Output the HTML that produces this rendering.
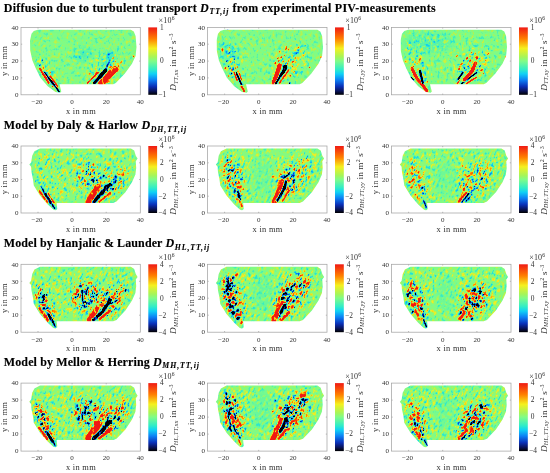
<!DOCTYPE html>
<html><head><meta charset="utf-8"><title>Diffusion due to turbulent transport</title>
<style>
html,body{margin:0;padding:0;background:#fff;}
body{width:550px;height:473px;position:relative;overflow:hidden;font-family:"Liberation Serif",serif;color:#222;}
.t{position:absolute;left:3.8px;font-weight:bold;font-size:12px;line-height:14px;white-space:nowrap;color:#000;letter-spacing:0.15px;-webkit-text-stroke:0.12px #000;}
.t i{font-style:italic}
.t sub{font-size:7.8px;font-style:italic;vertical-align:-2.5px;line-height:0;letter-spacing:0.95px;margin-left:0.5px}
svg{position:absolute;left:0;top:0;overflow:visible}
.k{font-size:7px;fill:#303030;font-family:"Liberation Serif",serif}
.ax{fill:none;stroke:#a4a4a4;stroke-width:0.75}
</style></head><body>
<div class="t" id="t0" style="top:0.6px;letter-spacing:0.215px">Diffusion due to turbulent transport <i>D</i><sub>TT,ij</sub> from experimental PIV-measurements</div>
<div class="t" id="t1" style="top:118.4px;letter-spacing:0.2px">Model by Daly &amp; Harlow <i>D</i><sub>DH,TT,ij</sub></div>
<div class="t" id="t2" style="top:236.4px;letter-spacing:0.1px">Model by Hanjalic &amp; Launder <i>D</i><sub>HL,TT,ij</sub></div>
<div class="t" id="t3" style="top:354.7px;letter-spacing:0.12px">Model by Mellor &amp; Herring <i>D</i><sub>MH,TT,ij</sub></div>
<svg width="550" height="473" viewBox="0 0 550 473">
<defs>
<linearGradient id="cb" x1="0" y1="1" x2="0" y2="0"><stop offset="0.000" stop-color="#000000"/><stop offset="0.060" stop-color="#0a1560"/><stop offset="0.125" stop-color="#0a30b8"/><stop offset="0.220" stop-color="#0c80f5"/><stop offset="0.310" stop-color="#10d0f5"/><stop offset="0.375" stop-color="#30ecc8"/><stop offset="0.500" stop-color="#80fc88"/><stop offset="0.560" stop-color="#a5f55a"/><stop offset="0.690" stop-color="#f5f01e"/><stop offset="0.830" stop-color="#ff8000"/><stop offset="1.000" stop-color="#f01a14"/></linearGradient>
<filter id="bl" x="-20%" y="-20%" width="140%" height="140%" color-interpolation-filters="sRGB"><feGaussianBlur stdDeviation="3"/></filter>
<filter id="f11" x="0" y="0" width="100%" height="100%" color-interpolation-filters="sRGB"><feTurbulence type="fractalNoise" baseFrequency="0.32 0.26" numOctaves="2" seed="11"/><feComponentTransfer><feFuncR type="table" tableValues="0 0 0 0 0 0 0 0 0 0 0 .07 .15 .22 .30 .38 .46 .50 .50 .50 .50 .50 .50 .55 .62 .70 .78 .86 .94 1 1 1 1 1 1 1 1 1 1 1 1"/></feComponentTransfer><feColorMatrix type="matrix" values="1 0 0 0 0 1 0 0 0 0 1 0 0 0 0 0 0 0 0 1" result="n"/><feGaussianBlur in="SourceGraphic" stdDeviation="0.45" result="b"/><feColorMatrix in="b" type="matrix" values="1 0 0 0 0 1 0 0 0 0 1 0 0 0 0 0 0 0 0 1" result="s"/><feColorMatrix in="b" type="matrix" values="0 1 0 0 0 0 1 0 0 0 0 1 0 0 0 0 0 0 0 1" result="a"/><feColorMatrix in="b" type="matrix" values="0 -1 0 0 1 0 -1 0 0 1 0 -1 0 0 1 0 0 0 0 1" result="i"/><feComposite in="a" in2="n" operator="arithmetic" k1="0.5" k2="0" k3="0" k4="0.5" result="p"/><feComposite in="s" in2="i" operator="arithmetic" k1="0" k2="0.5" k3="0.25" k4="0.25" result="q"/><feComposite in="p" in2="q" operator="arithmetic" k1="0" k2="2" k3="2" k4="-2"/><feComponentTransfer><feFuncR type="table" tableValues="0 0 0 .02 .04 .04 .04 .04 .05 .05 .06 .08 .15 .23 .32 .41 .50 .59 .68 .76 .85 .94 .97 .98 .99 1 .99 .98 .96 .95 .94 .94 .94"/><feFuncG type="table" tableValues="0 0 0 .05 .10 .16 .24 .36 .48 .60 .73 .83 .89 .93 .95 .97 .99 .97 .96 .95 .95 .94 .86 .75 .64 .52 .43 .35 .26 .18 .10 .10 .10"/><feFuncB type="table" tableValues="0 0 0 .21 .42 .61 .76 .85 .94 .96 .96 .93 .84 .75 .68 .61 .53 .43 .33 .27 .20 .14 .10 .07 .04 .01 .01 .03 .05 .06 .08 .08 .08"/></feComponentTransfer></filter>
<filter id="f12" x="0" y="0" width="100%" height="100%" color-interpolation-filters="sRGB"><feTurbulence type="fractalNoise" baseFrequency="0.32 0.26" numOctaves="2" seed="12"/><feComponentTransfer><feFuncR type="table" tableValues="0 0 0 0 0 0 0 0 0 0 0 .07 .15 .22 .30 .38 .46 .50 .50 .50 .50 .50 .50 .55 .62 .70 .78 .86 .94 1 1 1 1 1 1 1 1 1 1 1 1"/></feComponentTransfer><feColorMatrix type="matrix" values="1 0 0 0 0 1 0 0 0 0 1 0 0 0 0 0 0 0 0 1" result="n"/><feGaussianBlur in="SourceGraphic" stdDeviation="0.45" result="b"/><feColorMatrix in="b" type="matrix" values="1 0 0 0 0 1 0 0 0 0 1 0 0 0 0 0 0 0 0 1" result="s"/><feColorMatrix in="b" type="matrix" values="0 1 0 0 0 0 1 0 0 0 0 1 0 0 0 0 0 0 0 1" result="a"/><feColorMatrix in="b" type="matrix" values="0 -1 0 0 1 0 -1 0 0 1 0 -1 0 0 1 0 0 0 0 1" result="i"/><feComposite in="a" in2="n" operator="arithmetic" k1="0.5" k2="0" k3="0" k4="0.5" result="p"/><feComposite in="s" in2="i" operator="arithmetic" k1="0" k2="0.5" k3="0.25" k4="0.25" result="q"/><feComposite in="p" in2="q" operator="arithmetic" k1="0" k2="2" k3="2" k4="-2"/><feComponentTransfer><feFuncR type="table" tableValues="0 0 0 .02 .04 .04 .04 .04 .05 .05 .06 .08 .15 .23 .32 .41 .50 .59 .68 .76 .85 .94 .97 .98 .99 1 .99 .98 .96 .95 .94 .94 .94"/><feFuncG type="table" tableValues="0 0 0 .05 .10 .16 .24 .36 .48 .60 .73 .83 .89 .93 .95 .97 .99 .97 .96 .95 .95 .94 .86 .75 .64 .52 .43 .35 .26 .18 .10 .10 .10"/><feFuncB type="table" tableValues="0 0 0 .21 .42 .61 .76 .85 .94 .96 .96 .93 .84 .75 .68 .61 .53 .43 .33 .27 .20 .14 .10 .07 .04 .01 .01 .03 .05 .06 .08 .08 .08"/></feComponentTransfer></filter>
<filter id="f13" x="0" y="0" width="100%" height="100%" color-interpolation-filters="sRGB"><feTurbulence type="fractalNoise" baseFrequency="0.32 0.26" numOctaves="2" seed="13"/><feComponentTransfer><feFuncR type="table" tableValues="0 0 0 0 0 0 0 0 0 0 0 .07 .15 .22 .30 .38 .46 .50 .50 .50 .50 .50 .50 .55 .62 .70 .78 .86 .94 1 1 1 1 1 1 1 1 1 1 1 1"/></feComponentTransfer><feColorMatrix type="matrix" values="1 0 0 0 0 1 0 0 0 0 1 0 0 0 0 0 0 0 0 1" result="n"/><feGaussianBlur in="SourceGraphic" stdDeviation="0.45" result="b"/><feColorMatrix in="b" type="matrix" values="1 0 0 0 0 1 0 0 0 0 1 0 0 0 0 0 0 0 0 1" result="s"/><feColorMatrix in="b" type="matrix" values="0 1 0 0 0 0 1 0 0 0 0 1 0 0 0 0 0 0 0 1" result="a"/><feColorMatrix in="b" type="matrix" values="0 -1 0 0 1 0 -1 0 0 1 0 -1 0 0 1 0 0 0 0 1" result="i"/><feComposite in="a" in2="n" operator="arithmetic" k1="0.5" k2="0" k3="0" k4="0.5" result="p"/><feComposite in="s" in2="i" operator="arithmetic" k1="0" k2="0.5" k3="0.25" k4="0.25" result="q"/><feComposite in="p" in2="q" operator="arithmetic" k1="0" k2="2" k3="2" k4="-2"/><feComponentTransfer><feFuncR type="table" tableValues="0 0 0 .02 .04 .04 .04 .04 .05 .05 .06 .08 .15 .23 .32 .41 .50 .59 .68 .76 .85 .94 .97 .98 .99 1 .99 .98 .96 .95 .94 .94 .94"/><feFuncG type="table" tableValues="0 0 0 .05 .10 .16 .24 .36 .48 .60 .73 .83 .89 .93 .95 .97 .99 .97 .96 .95 .95 .94 .86 .75 .64 .52 .43 .35 .26 .18 .10 .10 .10"/><feFuncB type="table" tableValues="0 0 0 .21 .42 .61 .76 .85 .94 .96 .96 .93 .84 .75 .68 .61 .53 .43 .33 .27 .20 .14 .10 .07 .04 .01 .01 .03 .05 .06 .08 .08 .08"/></feComponentTransfer></filter>
<filter id="f21" x="0" y="0" width="100%" height="100%" color-interpolation-filters="sRGB"><feTurbulence type="fractalNoise" baseFrequency="0.46 0.24" numOctaves="2" seed="21"/><feComponentTransfer><feFuncR type="table" tableValues="0 0 0 0 0 0 0 0 0 0 0 0 0 0 .27 .50 .50 .50 .50 .50 .50 .50 .50 .50 .62 .92 1 1 1 1 1 1 1 1 1 1 1 1 1 1 1"/></feComponentTransfer><feColorMatrix type="matrix" values="1 0 0 0 0 1 0 0 0 0 1 0 0 0 0 0 0 0 0 1" result="n"/><feGaussianBlur in="SourceGraphic" stdDeviation="0.25" result="b"/><feColorMatrix in="b" type="matrix" values="1 0 0 0 0 1 0 0 0 0 1 0 0 0 0 0 0 0 0 1" result="s"/><feColorMatrix in="b" type="matrix" values="0 1 0 0 0 0 1 0 0 0 0 1 0 0 0 0 0 0 0 1" result="a"/><feColorMatrix in="b" type="matrix" values="0 -1 0 0 1 0 -1 0 0 1 0 -1 0 0 1 0 0 0 0 1" result="i"/><feComposite in="a" in2="n" operator="arithmetic" k1="0.5" k2="0" k3="0" k4="0.5" result="p"/><feComposite in="s" in2="i" operator="arithmetic" k1="0" k2="0.5" k3="0.25" k4="0.25" result="q"/><feComposite in="p" in2="q" operator="arithmetic" k1="0" k2="2" k3="2" k4="-2"/><feComponentTransfer><feFuncR type="table" tableValues="0 0 0 .02 .04 .04 .04 .04 .05 .05 .06 .08 .15 .23 .32 .41 .50 .59 .68 .76 .85 .94 .97 .98 .99 1 .99 .98 .96 .95 .94 .94 .94"/><feFuncG type="table" tableValues="0 0 0 .05 .10 .16 .24 .36 .48 .60 .73 .83 .89 .93 .95 .97 .99 .97 .96 .95 .95 .94 .86 .75 .64 .52 .43 .35 .26 .18 .10 .10 .10"/><feFuncB type="table" tableValues="0 0 0 .21 .42 .61 .76 .85 .94 .96 .96 .93 .84 .75 .68 .61 .53 .43 .33 .27 .20 .14 .10 .07 .04 .01 .01 .03 .05 .06 .08 .08 .08"/></feComponentTransfer></filter>
<filter id="f22" x="0" y="0" width="100%" height="100%" color-interpolation-filters="sRGB"><feTurbulence type="fractalNoise" baseFrequency="0.46 0.24" numOctaves="2" seed="22"/><feComponentTransfer><feFuncR type="table" tableValues="0 0 0 0 0 0 0 0 0 0 0 0 0 0 .27 .50 .50 .50 .50 .50 .50 .50 .50 .50 .62 .92 1 1 1 1 1 1 1 1 1 1 1 1 1 1 1"/></feComponentTransfer><feColorMatrix type="matrix" values="1 0 0 0 0 1 0 0 0 0 1 0 0 0 0 0 0 0 0 1" result="n"/><feGaussianBlur in="SourceGraphic" stdDeviation="0.25" result="b"/><feColorMatrix in="b" type="matrix" values="1 0 0 0 0 1 0 0 0 0 1 0 0 0 0 0 0 0 0 1" result="s"/><feColorMatrix in="b" type="matrix" values="0 1 0 0 0 0 1 0 0 0 0 1 0 0 0 0 0 0 0 1" result="a"/><feColorMatrix in="b" type="matrix" values="0 -1 0 0 1 0 -1 0 0 1 0 -1 0 0 1 0 0 0 0 1" result="i"/><feComposite in="a" in2="n" operator="arithmetic" k1="0.5" k2="0" k3="0" k4="0.5" result="p"/><feComposite in="s" in2="i" operator="arithmetic" k1="0" k2="0.5" k3="0.25" k4="0.25" result="q"/><feComposite in="p" in2="q" operator="arithmetic" k1="0" k2="2" k3="2" k4="-2"/><feComponentTransfer><feFuncR type="table" tableValues="0 0 0 .02 .04 .04 .04 .04 .05 .05 .06 .08 .15 .23 .32 .41 .50 .59 .68 .76 .85 .94 .97 .98 .99 1 .99 .98 .96 .95 .94 .94 .94"/><feFuncG type="table" tableValues="0 0 0 .05 .10 .16 .24 .36 .48 .60 .73 .83 .89 .93 .95 .97 .99 .97 .96 .95 .95 .94 .86 .75 .64 .52 .43 .35 .26 .18 .10 .10 .10"/><feFuncB type="table" tableValues="0 0 0 .21 .42 .61 .76 .85 .94 .96 .96 .93 .84 .75 .68 .61 .53 .43 .33 .27 .20 .14 .10 .07 .04 .01 .01 .03 .05 .06 .08 .08 .08"/></feComponentTransfer></filter>
<filter id="f23" x="0" y="0" width="100%" height="100%" color-interpolation-filters="sRGB"><feTurbulence type="fractalNoise" baseFrequency="0.46 0.24" numOctaves="2" seed="23"/><feComponentTransfer><feFuncR type="table" tableValues="0 0 0 0 0 0 0 0 0 0 0 0 0 0 .27 .50 .50 .50 .50 .50 .50 .50 .50 .50 .62 .92 1 1 1 1 1 1 1 1 1 1 1 1 1 1 1"/></feComponentTransfer><feColorMatrix type="matrix" values="1 0 0 0 0 1 0 0 0 0 1 0 0 0 0 0 0 0 0 1" result="n"/><feGaussianBlur in="SourceGraphic" stdDeviation="0.25" result="b"/><feColorMatrix in="b" type="matrix" values="1 0 0 0 0 1 0 0 0 0 1 0 0 0 0 0 0 0 0 1" result="s"/><feColorMatrix in="b" type="matrix" values="0 1 0 0 0 0 1 0 0 0 0 1 0 0 0 0 0 0 0 1" result="a"/><feColorMatrix in="b" type="matrix" values="0 -1 0 0 1 0 -1 0 0 1 0 -1 0 0 1 0 0 0 0 1" result="i"/><feComposite in="a" in2="n" operator="arithmetic" k1="0.5" k2="0" k3="0" k4="0.5" result="p"/><feComposite in="s" in2="i" operator="arithmetic" k1="0" k2="0.5" k3="0.25" k4="0.25" result="q"/><feComposite in="p" in2="q" operator="arithmetic" k1="0" k2="2" k3="2" k4="-2"/><feComponentTransfer><feFuncR type="table" tableValues="0 0 0 .02 .04 .04 .04 .04 .05 .05 .06 .08 .15 .23 .32 .41 .50 .59 .68 .76 .85 .94 .97 .98 .99 1 .99 .98 .96 .95 .94 .94 .94"/><feFuncG type="table" tableValues="0 0 0 .05 .10 .16 .24 .36 .48 .60 .73 .83 .89 .93 .95 .97 .99 .97 .96 .95 .95 .94 .86 .75 .64 .52 .43 .35 .26 .18 .10 .10 .10"/><feFuncB type="table" tableValues="0 0 0 .21 .42 .61 .76 .85 .94 .96 .96 .93 .84 .75 .68 .61 .53 .43 .33 .27 .20 .14 .10 .07 .04 .01 .01 .03 .05 .06 .08 .08 .08"/></feComponentTransfer></filter>
<filter id="f31" x="0" y="0" width="100%" height="100%" color-interpolation-filters="sRGB"><feTurbulence type="fractalNoise" baseFrequency="0.46 0.24" numOctaves="2" seed="31"/><feComponentTransfer><feFuncR type="table" tableValues="0 0 0 0 0 0 0 0 0 0 0 0 0 0 .27 .50 .50 .50 .50 .50 .50 .50 .50 .50 .62 .92 1 1 1 1 1 1 1 1 1 1 1 1 1 1 1"/></feComponentTransfer><feColorMatrix type="matrix" values="1 0 0 0 0 1 0 0 0 0 1 0 0 0 0 0 0 0 0 1" result="n"/><feGaussianBlur in="SourceGraphic" stdDeviation="0.25" result="b"/><feColorMatrix in="b" type="matrix" values="1 0 0 0 0 1 0 0 0 0 1 0 0 0 0 0 0 0 0 1" result="s"/><feColorMatrix in="b" type="matrix" values="0 1 0 0 0 0 1 0 0 0 0 1 0 0 0 0 0 0 0 1" result="a"/><feColorMatrix in="b" type="matrix" values="0 -1 0 0 1 0 -1 0 0 1 0 -1 0 0 1 0 0 0 0 1" result="i"/><feComposite in="a" in2="n" operator="arithmetic" k1="0.5" k2="0" k3="0" k4="0.5" result="p"/><feComposite in="s" in2="i" operator="arithmetic" k1="0" k2="0.5" k3="0.25" k4="0.25" result="q"/><feComposite in="p" in2="q" operator="arithmetic" k1="0" k2="2" k3="2" k4="-2"/><feComponentTransfer><feFuncR type="table" tableValues="0 0 0 .02 .04 .04 .04 .04 .05 .05 .06 .08 .15 .23 .32 .41 .50 .59 .68 .76 .85 .94 .97 .98 .99 1 .99 .98 .96 .95 .94 .94 .94"/><feFuncG type="table" tableValues="0 0 0 .05 .10 .16 .24 .36 .48 .60 .73 .83 .89 .93 .95 .97 .99 .97 .96 .95 .95 .94 .86 .75 .64 .52 .43 .35 .26 .18 .10 .10 .10"/><feFuncB type="table" tableValues="0 0 0 .21 .42 .61 .76 .85 .94 .96 .96 .93 .84 .75 .68 .61 .53 .43 .33 .27 .20 .14 .10 .07 .04 .01 .01 .03 .05 .06 .08 .08 .08"/></feComponentTransfer></filter>
<filter id="f32" x="0" y="0" width="100%" height="100%" color-interpolation-filters="sRGB"><feTurbulence type="fractalNoise" baseFrequency="0.46 0.24" numOctaves="2" seed="32"/><feComponentTransfer><feFuncR type="table" tableValues="0 0 0 0 0 0 0 0 0 0 0 0 0 0 .27 .50 .50 .50 .50 .50 .50 .50 .50 .50 .62 .92 1 1 1 1 1 1 1 1 1 1 1 1 1 1 1"/></feComponentTransfer><feColorMatrix type="matrix" values="1 0 0 0 0 1 0 0 0 0 1 0 0 0 0 0 0 0 0 1" result="n"/><feGaussianBlur in="SourceGraphic" stdDeviation="0.25" result="b"/><feColorMatrix in="b" type="matrix" values="1 0 0 0 0 1 0 0 0 0 1 0 0 0 0 0 0 0 0 1" result="s"/><feColorMatrix in="b" type="matrix" values="0 1 0 0 0 0 1 0 0 0 0 1 0 0 0 0 0 0 0 1" result="a"/><feColorMatrix in="b" type="matrix" values="0 -1 0 0 1 0 -1 0 0 1 0 -1 0 0 1 0 0 0 0 1" result="i"/><feComposite in="a" in2="n" operator="arithmetic" k1="0.5" k2="0" k3="0" k4="0.5" result="p"/><feComposite in="s" in2="i" operator="arithmetic" k1="0" k2="0.5" k3="0.25" k4="0.25" result="q"/><feComposite in="p" in2="q" operator="arithmetic" k1="0" k2="2" k3="2" k4="-2"/><feComponentTransfer><feFuncR type="table" tableValues="0 0 0 .02 .04 .04 .04 .04 .05 .05 .06 .08 .15 .23 .32 .41 .50 .59 .68 .76 .85 .94 .97 .98 .99 1 .99 .98 .96 .95 .94 .94 .94"/><feFuncG type="table" tableValues="0 0 0 .05 .10 .16 .24 .36 .48 .60 .73 .83 .89 .93 .95 .97 .99 .97 .96 .95 .95 .94 .86 .75 .64 .52 .43 .35 .26 .18 .10 .10 .10"/><feFuncB type="table" tableValues="0 0 0 .21 .42 .61 .76 .85 .94 .96 .96 .93 .84 .75 .68 .61 .53 .43 .33 .27 .20 .14 .10 .07 .04 .01 .01 .03 .05 .06 .08 .08 .08"/></feComponentTransfer></filter>
<filter id="f33" x="0" y="0" width="100%" height="100%" color-interpolation-filters="sRGB"><feTurbulence type="fractalNoise" baseFrequency="0.46 0.24" numOctaves="2" seed="33"/><feComponentTransfer><feFuncR type="table" tableValues="0 0 0 0 0 0 0 0 0 0 0 0 0 0 .27 .50 .50 .50 .50 .50 .50 .50 .50 .50 .62 .92 1 1 1 1 1 1 1 1 1 1 1 1 1 1 1"/></feComponentTransfer><feColorMatrix type="matrix" values="1 0 0 0 0 1 0 0 0 0 1 0 0 0 0 0 0 0 0 1" result="n"/><feGaussianBlur in="SourceGraphic" stdDeviation="0.25" result="b"/><feColorMatrix in="b" type="matrix" values="1 0 0 0 0 1 0 0 0 0 1 0 0 0 0 0 0 0 0 1" result="s"/><feColorMatrix in="b" type="matrix" values="0 1 0 0 0 0 1 0 0 0 0 1 0 0 0 0 0 0 0 1" result="a"/><feColorMatrix in="b" type="matrix" values="0 -1 0 0 1 0 -1 0 0 1 0 -1 0 0 1 0 0 0 0 1" result="i"/><feComposite in="a" in2="n" operator="arithmetic" k1="0.5" k2="0" k3="0" k4="0.5" result="p"/><feComposite in="s" in2="i" operator="arithmetic" k1="0" k2="0.5" k3="0.25" k4="0.25" result="q"/><feComposite in="p" in2="q" operator="arithmetic" k1="0" k2="2" k3="2" k4="-2"/><feComponentTransfer><feFuncR type="table" tableValues="0 0 0 .02 .04 .04 .04 .04 .05 .05 .06 .08 .15 .23 .32 .41 .50 .59 .68 .76 .85 .94 .97 .98 .99 1 .99 .98 .96 .95 .94 .94 .94"/><feFuncG type="table" tableValues="0 0 0 .05 .10 .16 .24 .36 .48 .60 .73 .83 .89 .93 .95 .97 .99 .97 .96 .95 .95 .94 .86 .75 .64 .52 .43 .35 .26 .18 .10 .10 .10"/><feFuncB type="table" tableValues="0 0 0 .21 .42 .61 .76 .85 .94 .96 .96 .93 .84 .75 .68 .61 .53 .43 .33 .27 .20 .14 .10 .07 .04 .01 .01 .03 .05 .06 .08 .08 .08"/></feComponentTransfer></filter>
<filter id="f41" x="0" y="0" width="100%" height="100%" color-interpolation-filters="sRGB"><feTurbulence type="fractalNoise" baseFrequency="0.46 0.24" numOctaves="2" seed="41"/><feComponentTransfer><feFuncR type="table" tableValues="0 0 0 0 0 0 0 0 0 0 0 0 0 0 .27 .50 .50 .50 .50 .50 .50 .50 .50 .50 .62 .92 1 1 1 1 1 1 1 1 1 1 1 1 1 1 1"/></feComponentTransfer><feColorMatrix type="matrix" values="1 0 0 0 0 1 0 0 0 0 1 0 0 0 0 0 0 0 0 1" result="n"/><feGaussianBlur in="SourceGraphic" stdDeviation="0.25" result="b"/><feColorMatrix in="b" type="matrix" values="1 0 0 0 0 1 0 0 0 0 1 0 0 0 0 0 0 0 0 1" result="s"/><feColorMatrix in="b" type="matrix" values="0 1 0 0 0 0 1 0 0 0 0 1 0 0 0 0 0 0 0 1" result="a"/><feColorMatrix in="b" type="matrix" values="0 -1 0 0 1 0 -1 0 0 1 0 -1 0 0 1 0 0 0 0 1" result="i"/><feComposite in="a" in2="n" operator="arithmetic" k1="0.5" k2="0" k3="0" k4="0.5" result="p"/><feComposite in="s" in2="i" operator="arithmetic" k1="0" k2="0.5" k3="0.25" k4="0.25" result="q"/><feComposite in="p" in2="q" operator="arithmetic" k1="0" k2="2" k3="2" k4="-2"/><feComponentTransfer><feFuncR type="table" tableValues="0 0 0 .02 .04 .04 .04 .04 .05 .05 .06 .08 .15 .23 .32 .41 .50 .59 .68 .76 .85 .94 .97 .98 .99 1 .99 .98 .96 .95 .94 .94 .94"/><feFuncG type="table" tableValues="0 0 0 .05 .10 .16 .24 .36 .48 .60 .73 .83 .89 .93 .95 .97 .99 .97 .96 .95 .95 .94 .86 .75 .64 .52 .43 .35 .26 .18 .10 .10 .10"/><feFuncB type="table" tableValues="0 0 0 .21 .42 .61 .76 .85 .94 .96 .96 .93 .84 .75 .68 .61 .53 .43 .33 .27 .20 .14 .10 .07 .04 .01 .01 .03 .05 .06 .08 .08 .08"/></feComponentTransfer></filter>
<filter id="f42" x="0" y="0" width="100%" height="100%" color-interpolation-filters="sRGB"><feTurbulence type="fractalNoise" baseFrequency="0.46 0.24" numOctaves="2" seed="42"/><feComponentTransfer><feFuncR type="table" tableValues="0 0 0 0 0 0 0 0 0 0 0 0 0 0 .27 .50 .50 .50 .50 .50 .50 .50 .50 .50 .62 .92 1 1 1 1 1 1 1 1 1 1 1 1 1 1 1"/></feComponentTransfer><feColorMatrix type="matrix" values="1 0 0 0 0 1 0 0 0 0 1 0 0 0 0 0 0 0 0 1" result="n"/><feGaussianBlur in="SourceGraphic" stdDeviation="0.25" result="b"/><feColorMatrix in="b" type="matrix" values="1 0 0 0 0 1 0 0 0 0 1 0 0 0 0 0 0 0 0 1" result="s"/><feColorMatrix in="b" type="matrix" values="0 1 0 0 0 0 1 0 0 0 0 1 0 0 0 0 0 0 0 1" result="a"/><feColorMatrix in="b" type="matrix" values="0 -1 0 0 1 0 -1 0 0 1 0 -1 0 0 1 0 0 0 0 1" result="i"/><feComposite in="a" in2="n" operator="arithmetic" k1="0.5" k2="0" k3="0" k4="0.5" result="p"/><feComposite in="s" in2="i" operator="arithmetic" k1="0" k2="0.5" k3="0.25" k4="0.25" result="q"/><feComposite in="p" in2="q" operator="arithmetic" k1="0" k2="2" k3="2" k4="-2"/><feComponentTransfer><feFuncR type="table" tableValues="0 0 0 .02 .04 .04 .04 .04 .05 .05 .06 .08 .15 .23 .32 .41 .50 .59 .68 .76 .85 .94 .97 .98 .99 1 .99 .98 .96 .95 .94 .94 .94"/><feFuncG type="table" tableValues="0 0 0 .05 .10 .16 .24 .36 .48 .60 .73 .83 .89 .93 .95 .97 .99 .97 .96 .95 .95 .94 .86 .75 .64 .52 .43 .35 .26 .18 .10 .10 .10"/><feFuncB type="table" tableValues="0 0 0 .21 .42 .61 .76 .85 .94 .96 .96 .93 .84 .75 .68 .61 .53 .43 .33 .27 .20 .14 .10 .07 .04 .01 .01 .03 .05 .06 .08 .08 .08"/></feComponentTransfer></filter>
<filter id="f43" x="0" y="0" width="100%" height="100%" color-interpolation-filters="sRGB"><feTurbulence type="fractalNoise" baseFrequency="0.46 0.24" numOctaves="2" seed="43"/><feComponentTransfer><feFuncR type="table" tableValues="0 0 0 0 0 0 0 0 0 0 0 0 0 0 .27 .50 .50 .50 .50 .50 .50 .50 .50 .50 .62 .92 1 1 1 1 1 1 1 1 1 1 1 1 1 1 1"/></feComponentTransfer><feColorMatrix type="matrix" values="1 0 0 0 0 1 0 0 0 0 1 0 0 0 0 0 0 0 0 1" result="n"/><feGaussianBlur in="SourceGraphic" stdDeviation="0.25" result="b"/><feColorMatrix in="b" type="matrix" values="1 0 0 0 0 1 0 0 0 0 1 0 0 0 0 0 0 0 0 1" result="s"/><feColorMatrix in="b" type="matrix" values="0 1 0 0 0 0 1 0 0 0 0 1 0 0 0 0 0 0 0 1" result="a"/><feColorMatrix in="b" type="matrix" values="0 -1 0 0 1 0 -1 0 0 1 0 -1 0 0 1 0 0 0 0 1" result="i"/><feComposite in="a" in2="n" operator="arithmetic" k1="0.5" k2="0" k3="0" k4="0.5" result="p"/><feComposite in="s" in2="i" operator="arithmetic" k1="0" k2="0.5" k3="0.25" k4="0.25" result="q"/><feComposite in="p" in2="q" operator="arithmetic" k1="0" k2="2" k3="2" k4="-2"/><feComponentTransfer><feFuncR type="table" tableValues="0 0 0 .02 .04 .04 .04 .04 .05 .05 .06 .08 .15 .23 .32 .41 .50 .59 .68 .76 .85 .94 .97 .98 .99 1 .99 .98 .96 .95 .94 .94 .94"/><feFuncG type="table" tableValues="0 0 0 .05 .10 .16 .24 .36 .48 .60 .73 .83 .89 .93 .95 .97 .99 .97 .96 .95 .95 .94 .86 .75 .64 .52 .43 .35 .26 .18 .10 .10 .10"/><feFuncB type="table" tableValues="0 0 0 .21 .42 .61 .76 .85 .94 .96 .96 .93 .84 .75 .68 .61 .53 .43 .33 .27 .20 .14 .10 .07 .04 .01 .01 .03 .05 .06 .08 .08 .08"/></feComponentTransfer></filter>
<clipPath id="c11"><path d="M17.7 4.9 L110.9 4.9 L113.8 6.7 L115.6 11.1 L116.5 22.2 L115.6 31.1 L112 38.8 L104.7 48.8 L95.8 58.1 L93.2 59.4 L39.5 59.4 L41.3 66.5 L40.2 67.9 L35.5 67.2 L27.7 61.4 L20.4 52.8 L15.7 43.3 L12.4 35.5 L10.2 25.5 L10 15.5 L11.5 8.9 L13.8 6.2Z"/></clipPath>
<clipPath id="c12"><path d="M17.7 4.9 L110.9 4.9 L113.8 6.7 L115.6 11.1 L116.5 22.2 L115.6 31.1 L112 38.8 L104.7 48.8 L95.8 58.1 L93.2 59.4 L39.5 59.4 L41.3 66.5 L40.2 67.9 L35.5 67.2 L27.7 61.4 L20.4 52.8 L15.7 43.3 L12.4 35.5 L10.2 25.5 L10 15.5 L11.5 8.9 L13.8 6.2Z"/></clipPath>
<clipPath id="c13"><path d="M17.7 4.9 L110.9 4.9 L113.8 6.7 L115.6 11.1 L116.5 22.2 L115.6 31.1 L112 38.8 L104.7 48.8 L95.8 58.1 L93.2 59.4 L39.5 59.4 L41.3 66.5 L40.2 67.9 L35.5 67.2 L27.7 61.4 L20.4 52.8 L15.7 43.3 L12.4 35.5 L10.2 25.5 L10 15.5 L11.5 8.9 L13.8 6.2Z"/></clipPath>
<clipPath id="c21"><path d="M20 4.9 L110.9 4.9 L114.2 7.1 L115.8 12.2 L117.6 15.1 L115.8 17.7 L116.2 24.4 L115.4 31.1 L112 38.8 L105.4 48.8 L96.5 58.1 L93.2 59.4 L36.6 59.4 L37.3 65.4 L35.5 67 L33.3 66.1 L27.7 61 L20 52.1 L13.8 42.1 L12.9 35.5 L11.5 28.8 L11.1 23.3 L9.3 21.1 L11.1 18.9 L12.2 12.2 L14.4 7.8Z"/></clipPath>
<clipPath id="c22"><path d="M20 4.9 L110.9 4.9 L114.2 7.1 L115.8 12.2 L117.6 15.1 L115.8 17.7 L116.2 24.4 L115.4 31.1 L112 38.8 L105.4 48.8 L96.5 58.1 L93.2 59.4 L36.6 59.4 L37.3 65.4 L35.5 67 L33.3 66.1 L27.7 61 L20 52.1 L13.8 42.1 L12.9 35.5 L11.5 28.8 L11.1 23.3 L9.3 21.1 L11.1 18.9 L12.2 12.2 L14.4 7.8Z"/></clipPath>
<clipPath id="c23"><path d="M20 4.9 L110.9 4.9 L114.2 7.1 L115.8 12.2 L117.6 15.1 L115.8 17.7 L116.2 24.4 L115.4 31.1 L112 38.8 L105.4 48.8 L96.5 58.1 L93.2 59.4 L36.6 59.4 L37.3 65.4 L35.5 67 L33.3 66.1 L27.7 61 L20 52.1 L13.8 42.1 L12.9 35.5 L11.5 28.8 L11.1 23.3 L9.3 21.1 L11.1 18.9 L12.2 12.2 L14.4 7.8Z"/></clipPath>
<clipPath id="c31"><path d="M20 4.9 L110.9 4.9 L114.2 7.1 L115.8 12.2 L117.6 15.1 L115.8 17.7 L116.2 24.4 L115.4 31.1 L112 38.8 L105.4 48.8 L96.5 58.1 L93.2 59.4 L36.6 59.4 L37.3 65.4 L35.5 67 L33.3 66.1 L27.7 61 L20 52.1 L13.8 42.1 L12.9 35.5 L11.5 28.8 L11.1 23.3 L9.3 21.1 L11.1 18.9 L12.2 12.2 L14.4 7.8Z"/></clipPath>
<clipPath id="c32"><path d="M20 4.9 L110.9 4.9 L114.2 7.1 L115.8 12.2 L117.6 15.1 L115.8 17.7 L116.2 24.4 L115.4 31.1 L112 38.8 L105.4 48.8 L96.5 58.1 L93.2 59.4 L36.6 59.4 L37.3 65.4 L35.5 67 L33.3 66.1 L27.7 61 L20 52.1 L13.8 42.1 L12.9 35.5 L11.5 28.8 L11.1 23.3 L9.3 21.1 L11.1 18.9 L12.2 12.2 L14.4 7.8Z"/></clipPath>
<clipPath id="c33"><path d="M20 4.9 L110.9 4.9 L114.2 7.1 L115.8 12.2 L117.6 15.1 L115.8 17.7 L116.2 24.4 L115.4 31.1 L112 38.8 L105.4 48.8 L96.5 58.1 L93.2 59.4 L36.6 59.4 L37.3 65.4 L35.5 67 L33.3 66.1 L27.7 61 L20 52.1 L13.8 42.1 L12.9 35.5 L11.5 28.8 L11.1 23.3 L9.3 21.1 L11.1 18.9 L12.2 12.2 L14.4 7.8Z"/></clipPath>
<clipPath id="c41"><path d="M20 4.9 L110.9 4.9 L114.2 7.1 L115.8 12.2 L117.6 15.1 L115.8 17.7 L116.2 24.4 L115.4 31.1 L112 38.8 L105.4 48.8 L96.5 58.1 L93.2 59.4 L36.6 59.4 L37.3 65.4 L35.5 67 L33.3 66.1 L27.7 61 L20 52.1 L13.8 42.1 L12.9 35.5 L11.5 28.8 L11.1 23.3 L9.3 21.1 L11.1 18.9 L12.2 12.2 L14.4 7.8Z"/></clipPath>
<clipPath id="c42"><path d="M20 4.9 L110.9 4.9 L114.2 7.1 L115.8 12.2 L117.6 15.1 L115.8 17.7 L116.2 24.4 L115.4 31.1 L112 38.8 L105.4 48.8 L96.5 58.1 L93.2 59.4 L36.6 59.4 L37.3 65.4 L35.5 67 L33.3 66.1 L27.7 61 L20 52.1 L13.8 42.1 L12.9 35.5 L11.5 28.8 L11.1 23.3 L9.3 21.1 L11.1 18.9 L12.2 12.2 L14.4 7.8Z"/></clipPath>
<clipPath id="c43"><path d="M20 4.9 L110.9 4.9 L114.2 7.1 L115.8 12.2 L117.6 15.1 L115.8 17.7 L116.2 24.4 L115.4 31.1 L112 38.8 L105.4 48.8 L96.5 58.1 L93.2 59.4 L36.6 59.4 L37.3 65.4 L35.5 67 L33.3 66.1 L27.7 61 L20 52.1 L13.8 42.1 L12.9 35.5 L11.5 28.8 L11.1 23.3 L9.3 21.1 L11.1 18.9 L12.2 12.2 L14.4 7.8Z"/></clipPath>
</defs>
<g transform="translate(20 24.9)" clip-path="url(#c11)"><g transform="rotate(0 61 36)"><g filter="url(#f11)"><g transform="rotate(0 61 36)"><rect x="-30" y="-40" width="182" height="152" fill="#802900"/><g filter="url(#bl)"><ellipse cx="24.4" cy="48.8" rx="8.9" ry="20" fill="#806100" transform="rotate(-35 24.4 48.8)"/><ellipse cx="85.4" cy="44.4" rx="14.4" ry="22.2" fill="#806600" transform="rotate(40 85.4 44.4)"/><ellipse cx="63.2" cy="29.9" rx="10" ry="6.7" fill="#704c00" transform="rotate(-20 63.2 29.9)"/><ellipse cx="88.7" cy="33.3" rx="4.9" ry="7.8" fill="#614c00" transform="rotate(30 88.7 33.3)"/><path d="M17.7 4.9 L110.9 4.9 L113.8 6.7 L115.6 11.1 L116.5 22.2 L115.6 31.1 L112 38.8 L104.7 48.8 L95.8 58.1 L93.2 59.4 L39.5 59.4 L41.3 66.5 L40.2 67.9 L35.5 67.2 L27.7 61.4 L20.4 52.8 L15.7 43.3 L12.4 35.5 L10.2 25.5 L10 15.5 L11.5 8.9 L13.8 6.2Z" fill="none" stroke="#801f00" stroke-width="6"/></g><g fill="none" stroke-linecap="round"><path stroke="#db4c00" stroke-width="2" d="M32.8 58.3L33.1 57.7"/><path stroke="#524c00" stroke-width="2" d="M26.4 49.4L27 49"/><path stroke="#ad4c00" stroke-width="1.6" d="M26.9 46.2L27 45.7M23.2 43.4L23.6 42.9M26.3 51.6L26.5 50.8M34.8 55.4L35.1 54.8M101.9 36.3L102.3 36M91.2 35.8L91.6 35.3"/><path stroke="#ad4c00" stroke-width="1.1" d="M25.6 50.6L25.9 49.8M28.1 45.6L28.8 44.9M32.9 53.1L33.6 52.5M21.8 47.3L22.3 46.3M90.1 45.5L91.1 44.5M81.5 43.1L81.8 42.3"/><path stroke="#db4c00" stroke-width="1.3" d="M32.6 61.7L33 61.1M29.7 48.2L30.3 47.6M69 49.5L70.2 48.3M95.2 37L95.6 36.2M98.5 41.4L98.9 40.7M92.9 33.7L93.4 32.9M100.7 38.1L101.2 37.3M97.4 45.9L97.8 45.1"/><path stroke="#ad4c00" stroke-width="0.9" d="M26.9 51.8L27.4 50.9M83.3 28.2L84 27.2"/><path stroke="#524c00" stroke-width="2.2" d="M26.1 48.2L26.8 47.7M87.9 29.7L88.3 29.2"/><path stroke="#ad4c00" stroke-width="1.8" d="M83.3 36.2L84 35.7M88.8 42.5L89.5 42.1M84.8 49.7L85.2 49"/><path stroke="#524c00" stroke-width="1.6" d="M89.8 44.7L90.1 44.4M95 44.2L95.8 43.4M79.5 57.2L80 56.1"/><path stroke="#524c00" stroke-width="1.1" d="M71.7 56L72.2 55M91.1 41.2L91.8 40.4"/><path stroke="#db4c00" stroke-width="2.2" d="M88 56.9L88.7 56.4"/><path stroke="#db4c00" stroke-width="1.6" d="M77.4 48.3L78.4 47.8"/><path stroke="#524c00" stroke-width="1.8" d="M83.6 51.7L84.4 51.2M86.3 45.7L86.7 44.6"/><path stroke="#ad4c00" stroke-width="1.3" d="M81.9 51L83.1 50.3M93.3 38.9L94.4 37.9M95.1 30.8L95.5 29.4"/><path stroke="#db4c00" stroke-width="0.9" d="M87.2 41.6L87.6 40.7"/><path stroke="#db4c00" stroke-width="1.8" d="M90.5 42.3L91.1 41.8"/><path stroke="#ff4c00" stroke-width="2" d="M20 43.9L28.8 58.1M30.2 51.5L37.3 61.7"/><path stroke="#003300" stroke-width="1.3" d="M24.8 47.7L28.8 53.2"/><path stroke="#003300" stroke-width="2.2" d="M28.8 53.2L33.7 59.4"/><path stroke="#003300" stroke-width="1.6" d="M33.7 59.4L39 66.5"/><path stroke="#244c00" stroke-width="1.3" d="M22 35.9L22.4 35.1M19.7 40.8L20.2 40"/><path stroke="#ffa600" stroke-width="6.2" d="M81.6 58.1L94.9 44.4"/><path stroke="#003300" stroke-width="2.9" d="M74.3 58.1L79.9 51.9"/><path stroke="#003300" stroke-width="3.8" d="M79.9 51.9L85.4 45.5"/><path stroke="#244c00" stroke-width="1.8" d="M85.4 44.4L89.8 35.5"/><path stroke="#ff4c00" stroke-width="1.6" d="M67.7 58.1L77.6 47.7"/><path stroke="#ff4c00" stroke-width="1.1" d="M113.4 31.8L113.8 31.2"/></g></g></g></g></g>
<rect class="ax" x="21" y="27.4" width="119.3" height="67.4"/>
<text class="k" x="37" y="104.1" text-anchor="middle">−20</text><text class="k" x="72.1" y="104.1" text-anchor="middle">0</text><text class="k" x="106.2" y="104.1" text-anchor="middle">20</text><text class="k" x="140.3" y="104.1" text-anchor="middle">40</text><text class="k" x="18.4" y="29.6" text-anchor="end">40</text><text class="k" x="18.4" y="46.4" text-anchor="end">30</text><text class="k" x="18.4" y="63.3" text-anchor="end">20</text><text class="k" x="18.4" y="80.1" text-anchor="end">10</text><text class="k" x="18.4" y="97" text-anchor="end">0</text><path class="ax" d="M38 94.8v-1.2M38 27.4v1.2M72.1 94.8v-1.2M72.1 27.4v1.2M106.2 94.8v-1.2M106.2 27.4v1.2M21 44.2h1.2M140.3 44.2h-1.2M21 61.1h1.2M140.3 61.1h-1.2M21 77.9h1.2M140.3 77.9h-1.2"/>
<text x="81" y="114" text-anchor="middle" class="k xl" style="font-size:8.4px;letter-spacing:0.3px">x in mm</text><text transform="translate(7.2 60.9) rotate(-90)" text-anchor="middle" class="k yl" style="font-size:8.4px;letter-spacing:0.3px">y in mm</text>
<rect x="148.3" y="27.4" width="8.8" height="67.4" fill="url(#cb)"/><text class="k" x="160.1" y="29.7" style="font-size:7.4px">1</text><text class="k" x="160.1" y="63.4" style="font-size:7.4px">0</text><text class="k" x="158.3" y="97.1" style="font-size:7.4px">−1</text><text class="k" x="158.5" y="23" style="font-size:8px;letter-spacing:0.2px">×10<tspan dy="-3" style="font-size:5.6px">6</tspan></text><text transform="translate(175.9 62.1) rotate(-90)" text-anchor="middle" class="k cl" style="font-size:9.1px;letter-spacing:0.2px"><tspan style="font-style:italic">D</tspan><tspan dy="1.6" style="font-size:6px;font-style:italic;letter-spacing:0.35px">TT,xx</tspan><tspan dy="-1.6"> in m</tspan><tspan dy="-3" style="font-size:6px">2</tspan><tspan dy="3"> s</tspan><tspan dy="-3" style="font-size:6px">−3</tspan></text>
<g transform="translate(206.5 24.9)" clip-path="url(#c12)"><g transform="rotate(0 61 36)"><g filter="url(#f12)"><g transform="rotate(0 61 36)"><rect x="-30" y="-40" width="182" height="152" fill="#802b00"/><g filter="url(#bl)"><ellipse cx="24.8" cy="37.7" rx="9.3" ry="24.4" fill="#806600" transform="rotate(-18 24.8 37.7)"/><ellipse cx="83.2" cy="39.9" rx="15.5" ry="23.3" fill="#806100" transform="rotate(35 83.2 39.9)"/><ellipse cx="23.3" cy="27.7" rx="6.7" ry="6.7" fill="#666600" transform="rotate(0 23.3 27.7)"/><path d="M17.7 4.9 L110.9 4.9 L113.8 6.7 L115.6 11.1 L116.5 22.2 L115.6 31.1 L112 38.8 L104.7 48.8 L95.8 58.1 L93.2 59.4 L39.5 59.4 L41.3 66.5 L40.2 67.9 L35.5 67.2 L27.7 61.4 L20.4 52.8 L15.7 43.3 L12.4 35.5 L10.2 25.5 L10 15.5 L11.5 8.9 L13.8 6.2Z" fill="none" stroke="#801f00" stroke-width="6"/></g><g fill="none" stroke-linecap="round"><path stroke="#db4c00" stroke-width="1.8" d="M29.1 43.4L29.8 42.5M24.9 45.8L25.2 44.8M68.6 38.4L68.9 37.5M91.5 23.1L91.9 22.5"/><path stroke="#db4c00" stroke-width="2.2" d="M15.9 25.5L16 24.8"/><path stroke="#ad4c00" stroke-width="1.6" d="M25.1 42L25.3 41.1M95.7 31L96.4 29.7"/><path stroke="#ad4c00" stroke-width="1.3" d="M21 30.9L21.2 30.2M25.9 47.1L26.4 46.1M22.5 30.9L23.1 30.3M85.7 31.9L86.3 31M85 37.9L86 36.9M73.5 33.3L74.3 32.1"/><path stroke="#524c00" stroke-width="2" d="M19.7 27.3L20 26.7M23.1 20L23.5 19.5M31.5 33.4L31.6 32.7M19 22L19.2 21M91.2 25.3L91.9 24.6M83.8 35.4L84.4 34.8M75.5 41.6L76.1 41.1M77.3 47.4L77.9 46.8"/><path stroke="#244c00" stroke-width="1.1" d="M27.4 34.9L28.1 34"/><path stroke="#db4c00" stroke-width="0.9" d="M22.5 23.3L23.2 22.7"/><path stroke="#ad4c00" stroke-width="2.2" d="M24.6 34.2L25.1 33.7"/><path stroke="#244c00" stroke-width="1.3" d="M27.9 51.4L28.4 50.2M23.3 43.8L23.9 43M22 41.9L22.4 41.1M24.6 49.2L25.1 48.4M25.7 52.7L26.2 52M20.2 36.3L20.6 35.6M28.6 27L29.1 26.2M23.1 28.1L23.5 27.3M79.4 39L79.9 38.2M83 58.5L83.4 57.7M20.6 4.4L21.5 4.4"/><path stroke="#524c00" stroke-width="1.6" d="M30 42.9L30.5 42M26.1 45.3L26.7 44.1M27.9 37.5L28 37M89.6 28.2L90.3 27.7M75.9 34.2L76.3 33.3"/><path stroke="#ad4c00" stroke-width="1.8" d="M24.3 37.2L24.7 36.5M91.4 40L92.2 39.4"/><path stroke="#ad4c00" stroke-width="1.1" d="M31.4 46.7L31.9 45.8M89.1 34.5L89.4 33.8M78.8 37L79.5 36.3M97.3 30.6L97.8 29.9"/><path stroke="#524c00" stroke-width="1.8" d="M16.8 19.2L17.2 18.1M90 42.3L90.5 41.4M69.9 47.2L70.7 46.6M76.8 44.2L77.4 43.3"/><path stroke="#db4c00" stroke-width="1.3" d="M90.5 41.9L90.7 41.3M80.5 39.5L81.1 38.2M86.8 36.6L87.4 35.5M81.9 35.3L82.7 33.8M79.3 22.1L79.8 21.8M18.6 43.6L19.1 42.9M22 51.4L22.4 50.6M30.8 42.5L31.3 41.8M82.1 36.3L82.5 35.6M85.6 41.9L86.1 41.1M87.4 47.4L87.8 46.6M83.9 51L84.3 50.2M73 27L73.4 26.2M81.9 24.8L82.3 24M88.5 33.7L89 32.9"/><path stroke="#524c00" stroke-width="1.3" d="M86.6 31.5L87.6 30.6M98.3 21.2L99 20.6M80 41.4L80.5 40.8M86.9 35.3L87.5 35"/><path stroke="#524c00" stroke-width="1.1" d="M80.6 43.1L81 42.5"/><path stroke="#db4c00" stroke-width="1.6" d="M86.1 37.3L86.3 36.8M79.3 24.6L79.9 23.2"/><path stroke="#db4c00" stroke-width="1.1" d="M89.1 37.4L89.3 36.8M77.9 30.7L78.7 30.1"/><path stroke="#db4c00" stroke-width="2" d="M71.4 41.6L72 41"/><path stroke="#ff4c00" stroke-width="1.6" d="M27.7 47.9L30.4 55M73.2 57.9L82.3 45"/><path stroke="#ff4c00" stroke-width="1.3" d="M33.1 48.8L35 55M72.1 36.3L72.5 35.6M74.8 32.8L75.2 32M76.3 37L76.8 36.2M71.2 33.7L71.7 32.9"/><path stroke="#003300" stroke-width="1.8" d="M29.9 47.9L35 59.7"/><path stroke="#ff4c00" stroke-width="2" d="M35 61.4L37.7 66.5"/><path stroke="#ff4c00" stroke-width="4.2" d="M67.2 58.3L73.2 40.6"/><path stroke="#003300" stroke-width="2" d="M69 58.8L74.3 50.6"/><path stroke="#003300" stroke-width="3.1" d="M74.3 50.6L79 43.5"/><path stroke="#004c00" stroke-width="3.8" d="M78.3 42.4L78.7 41.9"/><path stroke="#ff4c00" stroke-width="1.1" d="M102.8 42.4L103.5 42.4M114.3 32.2L115 32.2"/></g></g></g></g></g>
<rect class="ax" x="207.5" y="27.4" width="119.5" height="67.4"/>
<text class="k" x="223.6" y="104.1" text-anchor="middle">−20</text><text class="k" x="258.7" y="104.1" text-anchor="middle">0</text><text class="k" x="292.9" y="104.1" text-anchor="middle">20</text><text class="k" x="327" y="104.1" text-anchor="middle">40</text><text class="k" x="204.9" y="29.6" text-anchor="end">40</text><text class="k" x="204.9" y="46.4" text-anchor="end">30</text><text class="k" x="204.9" y="63.3" text-anchor="end">20</text><text class="k" x="204.9" y="80.1" text-anchor="end">10</text><text class="k" x="204.9" y="97" text-anchor="end">0</text><path class="ax" d="M224.6 94.8v-1.2M224.6 27.4v1.2M258.7 94.8v-1.2M258.7 27.4v1.2M292.9 94.8v-1.2M292.9 27.4v1.2M207.5 44.2h1.2M327 44.2h-1.2M207.5 61.1h1.2M327 61.1h-1.2M207.5 77.9h1.2M327 77.9h-1.2"/>
<text x="267.6" y="114" text-anchor="middle" class="k xl" style="font-size:8.4px;letter-spacing:0.3px">x in mm</text><text transform="translate(193.7 60.9) rotate(-90)" text-anchor="middle" class="k yl" style="font-size:8.4px;letter-spacing:0.3px">y in mm</text>
<rect x="335" y="27.4" width="8.8" height="67.4" fill="url(#cb)"/><text class="k" x="346.8" y="29.7" style="font-size:7.4px">1</text><text class="k" x="346.8" y="63.4" style="font-size:7.4px">0</text><text class="k" x="345" y="97.1" style="font-size:7.4px">−1</text><text class="k" x="345.2" y="23" style="font-size:8px;letter-spacing:0.2px">×10<tspan dy="-3" style="font-size:5.6px">6</tspan></text><text transform="translate(362.6 62.1) rotate(-90)" text-anchor="middle" class="k cl" style="font-size:9.1px;letter-spacing:0.2px"><tspan style="font-style:italic">D</tspan><tspan dy="1.6" style="font-size:6px;font-style:italic;letter-spacing:0.35px">TT,yy</tspan><tspan dy="-1.6"> in m</tspan><tspan dy="-3" style="font-size:6px">2</tspan><tspan dy="3"> s</tspan><tspan dy="-3" style="font-size:6px">−3</tspan></text>
<g transform="translate(390.5 24.9)" clip-path="url(#c13)"><g transform="rotate(0 61 36)"><g filter="url(#f13)"><g transform="rotate(0 61 36)"><rect x="-30" y="-40" width="182" height="152" fill="#803000"/><g filter="url(#bl)"><ellipse cx="25.5" cy="41" rx="10" ry="23.3" fill="#806b00" transform="rotate(-25 25.5 41)"/><ellipse cx="82.1" cy="42.1" rx="15.5" ry="22.2" fill="#806b00" transform="rotate(35 82.1 42.1)"/><ellipse cx="37.7" cy="17.7" rx="24.4" ry="10" fill="#734000" transform="rotate(0 37.7 17.7)"/><path d="M17.7 4.9 L110.9 4.9 L113.8 6.7 L115.6 11.1 L116.5 22.2 L115.6 31.1 L112 38.8 L104.7 48.8 L95.8 58.1 L93.2 59.4 L39.5 59.4 L41.3 66.5 L40.2 67.9 L35.5 67.2 L27.7 61.4 L20.4 52.8 L15.7 43.3 L12.4 35.5 L10.2 25.5 L10 15.5 L11.5 8.9 L13.8 6.2Z" fill="none" stroke="#801f00" stroke-width="6"/></g><g fill="none" stroke-linecap="round"><path stroke="#ad4c00" stroke-width="1.3" d="M22 39.7L22.5 39.1M22.8 38.6L24.1 37.5M14.9 37.2L15.2 36.7M19.7 39.2L20 38.4M21.9 34.8L21.9 34M96.8 25.7L97.1 24.7M80.7 50.3L81.3 48.8M83.8 29.9L84.7 28.8M80.3 50.8L80.5 50.3M79.6 34.6L80.2 34M97 36.4L97.4 35.5"/><path stroke="#524c00" stroke-width="1.3" d="M25.7 48.8L25.8 47.5M32.4 41.5L32.6 40.3M28.1 55.8L28.6 55.3M24.9 48.7L24.9 48.2M25.9 32.3L26.8 31.1M87.2 55.3L87.6 54.9M97.8 24.4L98.3 23.9"/><path stroke="#524c00" stroke-width="1.8" d="M30.9 38.9L31.7 37.9M34.4 55.8L34.7 55.3M18.9 34.8L19.5 34.2M34.7 53.9L35.3 53.5M74.8 45.3L75.9 44.8"/><path stroke="#db4c00" stroke-width="2.2" d="M29.4 34.8L29.8 34"/><path stroke="#524c00" stroke-width="1.1" d="M31.9 40.9L32.5 40.2M20.4 24.8L21.1 24.1M78.6 47.8L79 47.3M84.7 41.1L85.1 40.2M81.3 33.3L82 32.8"/><path stroke="#ad4c00" stroke-width="1.1" d="M18.2 25.9L19 25.3M25.8 33.1L26 32.3M77.8 38L78.2 37.2M84.8 37.7L85.2 36.9"/><path stroke="#ad4c00" stroke-width="1.6" d="M24.6 37.4L24.8 36.4M18.7 21L19.4 19.9M79.1 32L79.5 31.7M70.1 52.6L70.7 51.8"/><path stroke="#ad4c00" stroke-width="2" d="M27.5 44.9L27.9 44.1M79.4 36.3L80 35.5"/><path stroke="#db4c00" stroke-width="1.1" d="M96.7 29.5L98 28.9M80.8 43.8L81.5 43.1M81.1 52.7L82 51.7M92.9 48.7L93.3 48.2M115 32.2L115.7 32.2"/><path stroke="#ad4c00" stroke-width="1.8" d="M71.2 39.1L72.2 38.7M85.9 33.1L86.5 32.8"/><path stroke="#ad4c00" stroke-width="2.2" d="M88.9 50.9L89.5 50.4"/><path stroke="#db4c00" stroke-width="1.6" d="M68.5 44.7L68.8 43.7M89.4 46.2L89.8 45.7M86.9 33.1L87.4 32"/><path stroke="#ad4c00" stroke-width="0.9" d="M70.2 51.4L70.8 50.4M68.6 34.7L69.5 34"/><path stroke="#db4c00" stroke-width="1.3" d="M78.9 41.1L79.4 40.8M22.8 41.9L23.3 41.1M22 35.9L22.4 35.1M26.4 39.2L26.8 38.4M34.6 52.7L35 52M36.6 57.4L37 56.6M69.2 41.9L69.7 41.1M85.6 32.8L86.1 32M89.2 36.3L89.6 35.6M91.2 45.4L91.6 44.6M66.3 31.4L66.8 30.7M80.7 28.1L81.2 27.3M95.2 35.9L95.6 35.1"/><path stroke="#524c00" stroke-width="0.9" d="M82.7 54.9L83.1 54.1"/><path stroke="#524c00" stroke-width="2" d="M94.4 30L95.1 29.6"/><path stroke="#db4c00" stroke-width="1.8" d="M70.5 39.6L71.5 38.9"/><path stroke="#524c00" stroke-width="1.6" d="M78.3 43.8L78.5 43M18.6 29.3L19.1 28.4M21.9 43.7L22.4 42.8M26.4 31.5L26.9 30.6"/><path stroke="#ff4c00" stroke-width="3.1" d="M21.3 43.3L26.8 54.1M26.8 54.1L33.1 61.4M33.1 61.4L36.4 66.1"/><path stroke="#003300" stroke-width="2.4" d="M29.5 45.9L32.2 57.9"/><path stroke="#003300" stroke-width="1.6" d="M20.4 52.4L23.1 55M71.2 58.8L85.8 47.9"/><path stroke="#ff4c00" stroke-width="3.5" d="M74.1 55L82.3 45M82.3 45L85 38.2"/><path stroke="#ff4c00" stroke-width="1.6" d="M75.9 58.8L85.8 52.4M79.1 36.4L79.7 35.5M76.3 33.7L76.8 32.8M86.2 33.7L86.8 32.8"/><path stroke="#003300" stroke-width="1.8" d="M67.7 54.1L72.3 47.9"/><path stroke="#ff4c00" stroke-width="1.3" d="M66.8 58.8L69.4 55"/><path stroke="#244c00" stroke-width="1.3" d="M73.9 43.6L74.3 42.9M77.4 41.9L77.9 41.1M86.5 45.4L87 44.6M89.2 41.9L89.6 41.1M73 36.3L73.4 35.6"/></g></g></g></g></g>
<rect class="ax" x="391.5" y="27.4" width="119.5" height="67.4"/>
<text class="k" x="407.6" y="104.1" text-anchor="middle">−20</text><text class="k" x="442.7" y="104.1" text-anchor="middle">0</text><text class="k" x="476.9" y="104.1" text-anchor="middle">20</text><text class="k" x="511" y="104.1" text-anchor="middle">40</text><text class="k" x="388.9" y="29.6" text-anchor="end">40</text><text class="k" x="388.9" y="46.4" text-anchor="end">30</text><text class="k" x="388.9" y="63.3" text-anchor="end">20</text><text class="k" x="388.9" y="80.1" text-anchor="end">10</text><text class="k" x="388.9" y="97" text-anchor="end">0</text><path class="ax" d="M408.6 94.8v-1.2M408.6 27.4v1.2M442.7 94.8v-1.2M442.7 27.4v1.2M476.9 94.8v-1.2M476.9 27.4v1.2M391.5 44.2h1.2M511 44.2h-1.2M391.5 61.1h1.2M511 61.1h-1.2M391.5 77.9h1.2M511 77.9h-1.2"/>
<text x="451.6" y="114" text-anchor="middle" class="k xl" style="font-size:8.4px;letter-spacing:0.3px">x in mm</text><text transform="translate(377.7 60.9) rotate(-90)" text-anchor="middle" class="k yl" style="font-size:8.4px;letter-spacing:0.3px">y in mm</text>
<rect x="519" y="27.4" width="8.8" height="67.4" fill="url(#cb)"/><text class="k" x="530.8" y="29.7" style="font-size:7.4px">1</text><text class="k" x="530.8" y="63.4" style="font-size:7.4px">0</text><text class="k" x="529" y="97.1" style="font-size:7.4px">−1</text><text class="k" x="529.2" y="23" style="font-size:8px;letter-spacing:0.2px">×10<tspan dy="-3" style="font-size:5.6px">6</tspan></text><text transform="translate(546.6 62.1) rotate(-90)" text-anchor="middle" class="k cl" style="font-size:9.1px;letter-spacing:0.2px"><tspan style="font-style:italic">D</tspan><tspan dy="1.6" style="font-size:6px;font-style:italic;letter-spacing:0.35px">TT,xy</tspan><tspan dy="-1.6"> in m</tspan><tspan dy="-3" style="font-size:6px">2</tspan><tspan dy="3"> s</tspan><tspan dy="-3" style="font-size:6px">−3</tspan></text>
<g transform="translate(20 143.5)" clip-path="url(#c21)"><g transform="rotate(25 61 36)"><g filter="url(#f21)"><g transform="rotate(-25 61 36)"><rect x="-30" y="-40" width="182" height="152" fill="#835400"/><g filter="url(#bl)"><ellipse cx="26.6" cy="31.1" rx="16.6" ry="26.6" fill="#806b00" transform="rotate(-25 26.6 31.1)"/><ellipse cx="71" cy="33.3" rx="15.5" ry="14.4" fill="#80bf00" transform="rotate(0 71 33.3)"/><ellipse cx="93.2" cy="38.8" rx="13.3" ry="18.9" fill="#809900" transform="rotate(40 93.2 38.8)"/><path d="M20 4.9 L110.9 4.9 L114.2 7.1 L115.8 12.2 L117.6 15.1 L115.8 17.7 L116.2 24.4 L115.4 31.1 L112 38.8 L105.4 48.8 L96.5 58.1 L93.2 59.4 L36.6 59.4 L37.3 65.4 L35.5 67 L33.3 66.1 L27.7 61 L20 52.1 L13.8 42.1 L12.9 35.5 L11.5 28.8 L11.1 23.3 L9.3 21.1 L11.1 18.9 L12.2 12.2 L14.4 7.8Z" fill="none" stroke="#801f00" stroke-width="6"/></g><g fill="none" stroke-linecap="round"><path stroke="#005900" stroke-width="1.3" d="M87.1 46.7L88.1 46M87.4 42.7L87.8 41.6M66.6 41.5L67.4 40.2M90.7 38.5L91.2 37.8M93.4 35.9L93.8 35.1M94.1 39.9L94.5 39.1M62.6 35L62.9 34.2M64.4 39.5L64.7 38.6M69.9 31.5L70.2 30.6M66.2 28.6L66.5 27.8M71.7 36.8L72 36M74.2 29.3L74.5 28.4M68.6 23.7L68.9 22.9"/><path stroke="#245900" stroke-width="2.4" d="M85.9 45.1L86.1 44.2"/><path stroke="#005900" stroke-width="2" d="M95.7 37.7L96.6 36.9M83.5 32.8L83.7 32.1M73.2 38.1L73.6 37.5M77 44L77.6 43.2"/><path stroke="#ff5900" stroke-width="1.3" d="M89.8 38.9L90.3 38.7M98.8 31.7L99.9 30.7M79 36.8L79.4 36M81.6 41.4L82.1 40.7M58.6 33.7L59 32.9M60.8 39.2L61.2 38.4M76.3 38.1L76.8 37.3"/><path stroke="#ff5900" stroke-width="1.8" d="M103.2 31.5L103.9 30.7"/><path stroke="#245900" stroke-width="2.2" d="M93.6 39.6L94 38.6"/><path stroke="#db5900" stroke-width="1.3" d="M93.1 44L93.4 43.3M100.9 37.7L101.4 37.2M66.2 32.4L66.5 31.3M68.4 30.5L68.4 29.9"/><path stroke="#005900" stroke-width="2.2" d="M92.9 45.8L93.7 45.3"/><path stroke="#245900" stroke-width="1.3" d="M89.5 46.1L90.3 44.9M91.6 42.4L91.9 41.3M81.2 42L81.9 40.9M80.9 35.4L81.4 34.4M66.2 31L66.5 30.6"/><path stroke="#ff5900" stroke-width="2.2" d="M87.8 46.3L88.5 45.6M85.9 48.3L86.1 47.7"/><path stroke="#db5900" stroke-width="2" d="M88.4 41.2L88.7 40.3"/><path stroke="#ff5900" stroke-width="2.4" d="M87 42.5L87.8 42"/><path stroke="#245900" stroke-width="1.1" d="M81.7 42.9L82.2 42.4M19.8 39.6L20.1 39M17.6 36.9L17.9 36.3M15.4 38L15.7 37.4"/><path stroke="#005900" stroke-width="1.8" d="M87.3 47.4L87.5 46.8M76.9 37.4L77.2 36.5"/><path stroke="#ff5900" stroke-width="0.9" d="M98.8 42.1L99.1 41.3"/><path stroke="#ff5900" stroke-width="1.6" d="M91.2 34.4L91.6 33.9"/><path stroke="#245900" stroke-width="0.9" d="M96.2 37.5L96.8 36.7"/><path stroke="#db5900" stroke-width="0.9" d="M95.4 45.9L96.2 45.2"/><path stroke="#245900" stroke-width="2" d="M94.8 33.1L95.4 32.5M79.9 34.5L80.3 33.5"/><path stroke="#525900" stroke-width="1.6" d="M77.8 22L78.1 20.8M73.9 24.5L74.2 23.9"/><path stroke="#ad5900" stroke-width="1.1" d="M77.1 31.4L77.5 30.5"/><path stroke="#245900" stroke-width="1.6" d="M68.6 41.2L68.9 40.2M77.5 39.5L77.9 38.9"/><path stroke="#525900" stroke-width="1.3" d="M78.8 25.1L78.9 23.8M68.5 46L68.5 45M66.2 36.9L66.3 35.7"/><path stroke="#db5900" stroke-width="1.6" d="M73.2 21.9L73.5 20.9M64.6 38.4L64.7 37.6M71.3 33.3L71.4 32.1"/><path stroke="#525900" stroke-width="0.9" d="M77.6 36.8L77.9 35.9"/><path stroke="#db5900" stroke-width="1.1" d="M59.8 31.7L60.4 31.1M70.7 26.5L71 25.4"/><path stroke="#005900" stroke-width="1.6" d="M73 38.4L73.4 37.7M20.9 42.8L25.5 51M30.8 59.2L34.6 64.6"/><path stroke="#525900" stroke-width="1.8" d="M67.6 38.5L67.9 37.7"/><path stroke="#ff9900" stroke-width="2.2" d="M19.1 47.2L27.3 58.3"/><path stroke="#ff9900" stroke-width="1.8" d="M28.2 50.1L33.7 59.2M79.2 58.3L90.1 49.2"/><path stroke="#005900" stroke-width="2.9" d="M25.5 51L30.8 59.2"/><path stroke="#ff9900" stroke-width="6" d="M68.5 58.6L77.6 43.3"/><path stroke="#005900" stroke-width="3.8" d="M73.6 58.6L82.7 48.1M82.7 48.1L90.1 41"/><path stroke="#005900" stroke-width="4.3" d="M85.9 44.1L86.7 43.3"/></g></g></g></g></g>
<rect class="ax" x="21" y="146" width="119.3" height="67"/>
<text class="k" x="37" y="222.3" text-anchor="middle">−20</text><text class="k" x="72.1" y="222.3" text-anchor="middle">0</text><text class="k" x="106.2" y="222.3" text-anchor="middle">20</text><text class="k" x="140.3" y="222.3" text-anchor="middle">40</text><text class="k" x="18.4" y="148.2" text-anchor="end">40</text><text class="k" x="18.4" y="164.9" text-anchor="end">30</text><text class="k" x="18.4" y="181.7" text-anchor="end">20</text><text class="k" x="18.4" y="198.4" text-anchor="end">10</text><text class="k" x="18.4" y="215.2" text-anchor="end">0</text><path class="ax" d="M38 213v-1.2M38 146v1.2M72.1 213v-1.2M72.1 146v1.2M106.2 213v-1.2M106.2 146v1.2M21 162.8h1.2M140.3 162.8h-1.2M21 179.5h1.2M140.3 179.5h-1.2M21 196.2h1.2M140.3 196.2h-1.2"/>
<text x="81" y="232.2" text-anchor="middle" class="k xl" style="font-size:8.4px;letter-spacing:0.3px">x in mm</text><text transform="translate(7.2 179.3) rotate(-90)" text-anchor="middle" class="k yl" style="font-size:8.4px;letter-spacing:0.3px">y in mm</text>
<rect x="148.3" y="146" width="8.8" height="67" fill="url(#cb)"/><text class="k" x="160.1" y="148.3" style="font-size:7.4px">4</text><text class="k" x="160.1" y="165.1" style="font-size:7.4px">2</text><text class="k" x="160.1" y="181.8" style="font-size:7.4px">0</text><text class="k" x="158.3" y="198.6" style="font-size:7.4px">−2</text><text class="k" x="158.3" y="215.3" style="font-size:7.4px">−4</text><text class="k" x="158.5" y="141.6" style="font-size:8px;letter-spacing:0.2px">×10<tspan dy="-3" style="font-size:5.6px">6</tspan></text><text transform="translate(175.9 180.5) rotate(-90)" text-anchor="middle" class="k cl" style="font-size:9.1px;letter-spacing:0.2px"><tspan style="font-style:italic">D</tspan><tspan dy="1.6" style="font-size:6px;font-style:italic;letter-spacing:0.35px">DH,TT,xx</tspan><tspan dy="-1.6"> in m</tspan><tspan dy="-3" style="font-size:6px">2</tspan><tspan dy="3"> s</tspan><tspan dy="-3" style="font-size:6px">−3</tspan></text>
<g transform="translate(206.5 143.5)" clip-path="url(#c22)"><g transform="rotate(25 61 36)"><g filter="url(#f22)"><g transform="rotate(-25 61 36)"><rect x="-30" y="-40" width="182" height="152" fill="#834f00"/><g filter="url(#bl)"><ellipse cx="26.2" cy="35.5" rx="10.2" ry="24.4" fill="#80cc00" transform="rotate(-15 26.2 35.5)"/><ellipse cx="87.6" cy="33.3" rx="12.9" ry="26.6" fill="#809900" transform="rotate(35 87.6 33.3)"/><ellipse cx="79.9" cy="37.7" rx="8.9" ry="15.5" fill="#80cc00" transform="rotate(25 79.9 37.7)"/><ellipse cx="55.5" cy="33.3" rx="12.2" ry="21.1" fill="#7a2600" transform="rotate(0 55.5 33.3)"/><path d="M20 4.9 L110.9 4.9 L114.2 7.1 L115.8 12.2 L117.6 15.1 L115.8 17.7 L116.2 24.4 L115.4 31.1 L112 38.8 L105.4 48.8 L96.5 58.1 L93.2 59.4 L36.6 59.4 L37.3 65.4 L35.5 67 L33.3 66.1 L27.7 61 L20 52.1 L13.8 42.1 L12.9 35.5 L11.5 28.8 L11.1 23.3 L9.3 21.1 L11.1 18.9 L12.2 12.2 L14.4 7.8Z" fill="none" stroke="#801f00" stroke-width="6"/></g><g fill="none" stroke-linecap="round"><path stroke="#ff5900" stroke-width="1.1" d="M22.7 30.9L22.9 30.3M24 39.6L24.3 38.9M90.7 20.8L90.9 19.9M17.5 26.7L17.9 25.5M28.2 53L28.5 52.1"/><path stroke="#005900" stroke-width="1.3" d="M28.7 41.6L29.5 40"/><path stroke="#ff5900" stroke-width="1.6" d="M29.6 28.9L30.4 28M29.9 55.7L30.5 55.3M24 18.9L24.7 18M26.9 33.7L27.4 33.3M31.5 39.6L31.8 38.7M18.6 22.6L19.1 21.7M21.9 37.7L22.4 36.8M26.6 41.5L27.1 40.6M36.6 45.9L37.1 45M28.6 29.3L29.1 28.4M24.1 24.9L24.7 23.9M66.3 33.7L66.8 32.8M70.7 27.1L71.3 26.2M74 31.5L74.6 30.6"/><path stroke="#db5900" stroke-width="1.3" d="M32.4 37.4L32.9 37M95.2 24.9L95.4 23.7M25 36.9L26.1 36.1M30.6 49.2L30.7 48.6M30.2 33.2L30.9 32M25.9 28L26.5 27.3M20.4 12.2L20.8 11.7M27.1 34.9L27.3 34.4"/><path stroke="#db5900" stroke-width="1.6" d="M19.8 30L20.3 29.5M92.5 18.3L92.9 17.7M84 22.6L84.6 21.7M92.9 27.1L93.4 26.2M97.3 20.4L97.9 19.5M101.8 33.7L102.3 32.8M95.1 38.2L95.7 37.2M90.7 33.7L91.2 32.8"/><path stroke="#245900" stroke-width="2" d="M26 27.7L26.8 26.7"/><path stroke="#db5900" stroke-width="2.2" d="M19.6 21.9L19.7 21.1M21.5 36.9L22.3 35.9M28.4 38.4L29.2 37.4M87.2 44.1L87.4 43.2"/><path stroke="#005900" stroke-width="2.2" d="M21.2 28.3L22.1 27.5"/><path stroke="#005900" stroke-width="2" d="M24.9 27.4L25.7 26.6M31.1 51.2L31.7 50.6M86.8 37.2L87.8 36.6M86.6 32.9L87.3 31.9M30.4 45.5L33.9 56.3M76.8 34.6L82.3 31.1"/><path stroke="#245900" stroke-width="1.8" d="M31.5 34.7L32.1 34M87.1 30.1L87.4 29.4M76.5 39.8L77 39"/><path stroke="#ff5900" stroke-width="1.3" d="M30 47.1L30.7 46.2M27.7 32.1L28.6 31M80.7 38.8L81.3 37.7M80.7 30.3L81.5 29.3"/><path stroke="#005900" stroke-width="1.8" d="M28.5 32.9L29.2 31.5M33.9 52.8L34.8 52.1M29.2 39.3L29.5 38.2"/><path stroke="#db5900" stroke-width="2.4" d="M33.8 44L34.7 43.3M30.1 44L30.8 43.4M86.8 48.6L87 47.7"/><path stroke="#ff5900" stroke-width="2.2" d="M31.2 44.2L32.1 43.4"/><path stroke="#245900" stroke-width="1.1" d="M19.5 26L20.2 24.9M95.5 24.1L96.4 23.4M93.2 36.4L93.6 35.9M81.3 32.9L81.9 32.4M29.2 18.5L29.6 18M21.5 35.4L21.8 34.8"/><path stroke="#245900" stroke-width="1.6" d="M30.3 29.4L30.6 28.3M27.4 26.1L27.9 25M31 24.7L31.4 24.1M26.3 45.1L26.7 43.7M25.7 35.5L26.1 34.5M20.8 17.1L21.3 16.2M21 34.2L21.6 33.3M22.8 43.3L23.3 42.4M27.5 49.7L28 48.8M26.6 53.3L27.1 52.3M20.1 29.5L20.7 28.6M27.5 22.6L28 21.7M89.4 44.2L89.9 43.2M82.9 36L83.5 35M86.2 33.7L86.8 32.8"/><path stroke="#ad5900" stroke-width="2.4" d="M83.5 38.6L84.3 37.9"/><path stroke="#db5900" stroke-width="1.8" d="M87.6 26.1L88.2 25.7M23.5 29.7L24.2 28.8"/><path stroke="#245900" stroke-width="1.3" d="M96.5 22.9L96.9 22.5"/><path stroke="#ad5900" stroke-width="1.3" d="M82.2 35.1L82.6 34.7M97.7 20.6L98.4 19.3M78.2 53.6L79.2 52.7M28.5 26.3L28.9 25.5M21.2 29.2L21.4 28.1"/><path stroke="#005900" stroke-width="1.6" d="M82 30.1L83.2 29M83.4 46.4L83.7 45.9M82.9 43.3L83.5 42.4M85.6 46.8L86.1 45.9M81.1 51.5L81.7 50.6"/><path stroke="#ff5900" stroke-width="1.8" d="M91 29.6L91.6 28.3M99.4 23.1L99.6 22.3"/><path stroke="#ad5900" stroke-width="1.6" d="M91 29L91.7 27.2"/><path stroke="#ff5900" stroke-width="2" d="M81.4 38.1L82.3 36.9M92.4 27.4L92.7 26.5"/><path stroke="#005900" stroke-width="1.1" d="M87.4 39.7L87.7 38.6M97.8 22.9L98.3 22.4"/><path stroke="#db5900" stroke-width="1.1" d="M85.2 49.1L85.5 48.4M94.9 34.1L95.7 33.7"/><path stroke="#ad5900" stroke-width="2.2" d="M79.3 30.6L79.7 29.5"/><path stroke="#ad5900" stroke-width="1.1" d="M80.5 30.3L80.8 29.5M92.6 41L93.6 40.2"/><path stroke="#ad5900" stroke-width="1.8" d="M98.2 18.5L99.1 17.5"/><path stroke="#005900" stroke-width="0.9" d="M29.1 45L29.7 44.3"/><path stroke="#ff5900" stroke-width="0.9" d="M17.9 28.8L18.4 27.9M16.4 28.9L16.8 27.9"/><path stroke="#db5900" stroke-width="2" d="M29.8 40.7L30.6 40"/><path stroke="#db5900" stroke-width="0.9" d="M30.1 26.5L30.7 25.8"/><path stroke="#525900" stroke-width="1.3" d="M26.8 38.1L27 37.5"/><path stroke="#ff9900" stroke-width="1.6" d="M32.2 55.9L35.9 63.2"/><path stroke="#ff9900" stroke-width="4.7" d="M67.7 58.3L75.9 38.2"/><path stroke="#ff9900" stroke-width="2.2" d="M75.9 57.2L82.3 47.2"/><path stroke="#005900" stroke-width="2.9" d="M70.8 56.8L77.6 45.5M77.6 45.5L79.4 38.2"/></g></g></g></g></g>
<rect class="ax" x="207.5" y="146" width="119.5" height="67"/>
<text class="k" x="223.6" y="222.3" text-anchor="middle">−20</text><text class="k" x="258.7" y="222.3" text-anchor="middle">0</text><text class="k" x="292.9" y="222.3" text-anchor="middle">20</text><text class="k" x="327" y="222.3" text-anchor="middle">40</text><text class="k" x="204.9" y="148.2" text-anchor="end">40</text><text class="k" x="204.9" y="164.9" text-anchor="end">30</text><text class="k" x="204.9" y="181.7" text-anchor="end">20</text><text class="k" x="204.9" y="198.4" text-anchor="end">10</text><text class="k" x="204.9" y="215.2" text-anchor="end">0</text><path class="ax" d="M224.6 213v-1.2M224.6 146v1.2M258.7 213v-1.2M258.7 146v1.2M292.9 213v-1.2M292.9 146v1.2M207.5 162.8h1.2M327 162.8h-1.2M207.5 179.5h1.2M327 179.5h-1.2M207.5 196.2h1.2M327 196.2h-1.2"/>
<text x="267.6" y="232.2" text-anchor="middle" class="k xl" style="font-size:8.4px;letter-spacing:0.3px">x in mm</text><text transform="translate(193.7 179.3) rotate(-90)" text-anchor="middle" class="k yl" style="font-size:8.4px;letter-spacing:0.3px">y in mm</text>
<rect x="335" y="146" width="8.8" height="67" fill="url(#cb)"/><text class="k" x="346.8" y="148.3" style="font-size:7.4px">4</text><text class="k" x="346.8" y="165.1" style="font-size:7.4px">2</text><text class="k" x="346.8" y="181.8" style="font-size:7.4px">0</text><text class="k" x="345" y="198.6" style="font-size:7.4px">−2</text><text class="k" x="345" y="215.3" style="font-size:7.4px">−4</text><text class="k" x="345.2" y="141.6" style="font-size:8px;letter-spacing:0.2px">×10<tspan dy="-3" style="font-size:5.6px">6</tspan></text><text transform="translate(362.6 180.5) rotate(-90)" text-anchor="middle" class="k cl" style="font-size:9.1px;letter-spacing:0.2px"><tspan style="font-style:italic">D</tspan><tspan dy="1.6" style="font-size:6px;font-style:italic;letter-spacing:0.35px">DH,TT,yy</tspan><tspan dy="-1.6"> in m</tspan><tspan dy="-3" style="font-size:6px">2</tspan><tspan dy="3"> s</tspan><tspan dy="-3" style="font-size:6px">−3</tspan></text>
<g transform="translate(390.5 143.5)" clip-path="url(#c23)"><g transform="rotate(25 61 36)"><g filter="url(#f23)"><g transform="rotate(-25 61 36)"><rect x="-30" y="-40" width="182" height="152" fill="#834f00"/><g filter="url(#bl)"><ellipse cx="25.5" cy="38.8" rx="10" ry="23.3" fill="#85a600" transform="rotate(-15 25.5 38.8)"/><ellipse cx="84.3" cy="37.7" rx="13.3" ry="23.3" fill="#80a600" transform="rotate(35 84.3 37.7)"/><ellipse cx="55.5" cy="33.3" rx="12.2" ry="21.1" fill="#7a2600" transform="rotate(0 55.5 33.3)"/><path d="M20 4.9 L110.9 4.9 L114.2 7.1 L115.8 12.2 L117.6 15.1 L115.8 17.7 L116.2 24.4 L115.4 31.1 L112 38.8 L105.4 48.8 L96.5 58.1 L93.2 59.4 L36.6 59.4 L37.3 65.4 L35.5 67 L33.3 66.1 L27.7 61 L20 52.1 L13.8 42.1 L12.9 35.5 L11.5 28.8 L11.1 23.3 L9.3 21.1 L11.1 18.9 L12.2 12.2 L14.4 7.8Z" fill="none" stroke="#801f00" stroke-width="6"/></g><g fill="none" stroke-linecap="round"><path stroke="#ad5900" stroke-width="1.8" d="M30.2 41.4L30.7 40.2M31 41.5L31.8 40.7M26.7 41.3L27.1 40.8"/><path stroke="#245900" stroke-width="1.8" d="M25.9 41.6L26.4 41.3"/><path stroke="#db5900" stroke-width="1.8" d="M16.6 31L16.9 30.2M21.3 24.6L21.7 23.6"/><path stroke="#525900" stroke-width="1.8" d="M30.2 37.3L30.5 36.2M24 22.8L24.3 22.3M25.7 19.6L26 18.9"/><path stroke="#db5900" stroke-width="0.9" d="M25.1 30.9L25.4 30M91.1 25.5L91.7 24.7"/><path stroke="#db5900" stroke-width="1.3" d="M25.6 33.6L26.6 32.7M92.6 44L93.6 43.3M75.8 41.7L76.3 40.8M66.3 28.1L66.8 27.3M71.9 22.6L72.3 21.8M75.2 24.8L75.6 24M95.2 31.4L95.6 30.7M88.5 22.6L89 21.8"/><path stroke="#ad5900" stroke-width="1.3" d="M27 21.9L27.6 21.3M83.2 19L83.8 18M91.4 37.1L91.7 36.4M77.2 25.9L77.9 25.6"/><path stroke="#525900" stroke-width="1.6" d="M26.4 32.9L26.9 31.8M20.3 20.6L20.6 19.9M81.5 33.5L81.9 32.6M69.9 40.3L70.2 39.8"/><path stroke="#245900" stroke-width="0.9" d="M28.3 47.6L28.6 46.5"/><path stroke="#db5900" stroke-width="2" d="M27.7 29.3L27.9 28.3"/><path stroke="#ff5900" stroke-width="1.8" d="M21.5 37.5L21.7 36.7M22 30.4L22.2 29.8"/><path stroke="#ff5900" stroke-width="2" d="M19.2 38.7L19.6 38.2M75.3 41.4L75.8 41.1"/><path stroke="#ad5900" stroke-width="1.6" d="M26.2 37.3L26.6 36.9M71.6 50.3L72.4 49.6M81 41.5L81.7 40.6M92.5 49.6L93.3 48.4M85.3 36.1L85.8 35.5"/><path stroke="#525900" stroke-width="1.1" d="M67.7 43.8L67.9 43.1M89.9 22.5L90.8 22M90 50.3L90.8 49.7M86.3 36.6L87.5 35.8"/><path stroke="#ff5900" stroke-width="0.9" d="M69 32.1L69.4 31.3"/><path stroke="#ff5900" stroke-width="1.6" d="M88.9 34.3L89.5 34M85.5 40.8L85.8 40.5M21.9 23.8L22.4 22.8M21 44.2L21.6 43.2M24.6 51.5L25.1 50.6M26.6 54.1L27.1 53.2M21.9 36.8L22.4 35.9M20.1 29.5L20.7 28.6M72.9 45.9L73.5 45M77.4 36.8L77.9 35.9M78.3 32.4L78.8 31.5M79.1 44.2L79.7 43.2"/><path stroke="#ad5900" stroke-width="0.9" d="M72.1 49.6L72.7 48.9"/><path stroke="#ff5900" stroke-width="1.1" d="M77.1 33.4L78.3 32.8"/><path stroke="#db5900" stroke-width="1.1" d="M94.7 25.9L95.7 25.3M74 37.1L74.9 35.9M91.8 25.9L92.1 25.2"/><path stroke="#ff5900" stroke-width="1.3" d="M90.5 43.5L90.9 43"/><path stroke="#245900" stroke-width="1.1" d="M88.8 34.9L89.1 34.1"/><path stroke="#ad5900" stroke-width="1.1" d="M91.2 32.5L92.2 31.8"/><path stroke="#245900" stroke-width="1.3" d="M91.3 36.3L91.9 34.8"/><path stroke="#525900" stroke-width="1.3" d="M80.9 26.3L81.3 25.8"/><path stroke="#245900" stroke-width="1.6" d="M31.9 45L32.4 44.1M31.9 49.7L32.4 48.8"/><path stroke="#005900" stroke-width="1.3" d="M33.1 57.2L35.9 64.1M75 58.3L81.4 51M82.1 38.5L82.5 37.8M83.9 43.2L84.3 42.4M86.5 45L87 44.2M89.4 40.5L89.8 39.8M81.2 47.6L81.6 46.9M76.3 43.6L76.8 42.9"/><path stroke="#ff9900" stroke-width="2.2" d="M68.1 58.3L75.9 49.2"/><path stroke="#005900" stroke-width="1.6" d="M71.4 58.6L78.5 50.1"/></g></g></g></g></g>
<rect class="ax" x="391.5" y="146" width="119.5" height="67"/>
<text class="k" x="407.6" y="222.3" text-anchor="middle">−20</text><text class="k" x="442.7" y="222.3" text-anchor="middle">0</text><text class="k" x="476.9" y="222.3" text-anchor="middle">20</text><text class="k" x="511" y="222.3" text-anchor="middle">40</text><text class="k" x="388.9" y="148.2" text-anchor="end">40</text><text class="k" x="388.9" y="164.9" text-anchor="end">30</text><text class="k" x="388.9" y="181.7" text-anchor="end">20</text><text class="k" x="388.9" y="198.4" text-anchor="end">10</text><text class="k" x="388.9" y="215.2" text-anchor="end">0</text><path class="ax" d="M408.6 213v-1.2M408.6 146v1.2M442.7 213v-1.2M442.7 146v1.2M476.9 213v-1.2M476.9 146v1.2M391.5 162.8h1.2M511 162.8h-1.2M391.5 179.5h1.2M511 179.5h-1.2M391.5 196.2h1.2M511 196.2h-1.2"/>
<text x="451.6" y="232.2" text-anchor="middle" class="k xl" style="font-size:8.4px;letter-spacing:0.3px">x in mm</text><text transform="translate(377.7 179.3) rotate(-90)" text-anchor="middle" class="k yl" style="font-size:8.4px;letter-spacing:0.3px">y in mm</text>
<rect x="519" y="146" width="8.8" height="67" fill="url(#cb)"/><text class="k" x="530.8" y="148.3" style="font-size:7.4px">4</text><text class="k" x="530.8" y="165.1" style="font-size:7.4px">2</text><text class="k" x="530.8" y="181.8" style="font-size:7.4px">0</text><text class="k" x="529" y="198.6" style="font-size:7.4px">−2</text><text class="k" x="529" y="215.3" style="font-size:7.4px">−4</text><text class="k" x="529.2" y="141.6" style="font-size:8px;letter-spacing:0.2px">×10<tspan dy="-3" style="font-size:5.6px">6</tspan></text><text transform="translate(546.6 180.5) rotate(-90)" text-anchor="middle" class="k cl" style="font-size:9.1px;letter-spacing:0.2px"><tspan style="font-style:italic">D</tspan><tspan dy="1.6" style="font-size:6px;font-style:italic;letter-spacing:0.35px">DH,TT,xy</tspan><tspan dy="-1.6"> in m</tspan><tspan dy="-3" style="font-size:6px">2</tspan><tspan dy="3"> s</tspan><tspan dy="-3" style="font-size:6px">−3</tspan></text>
<g transform="translate(20 261.8)" clip-path="url(#c31)"><g transform="rotate(25 61 36)"><g filter="url(#f31)"><g transform="rotate(-25 61 36)"><rect x="-30" y="-40" width="182" height="152" fill="#835900"/><g filter="url(#bl)"><ellipse cx="22.6" cy="41" rx="8.9" ry="21.1" fill="#80d900" transform="rotate(-25 22.6 41)"/><ellipse cx="65.4" cy="33.3" rx="14.4" ry="14.4" fill="#80f200" transform="rotate(0 65.4 33.3)"/><ellipse cx="89.8" cy="39.9" rx="12.2" ry="22.2" fill="#80d900" transform="rotate(45 89.8 39.9)"/><path d="M20 4.9 L110.9 4.9 L114.2 7.1 L115.8 12.2 L117.6 15.1 L115.8 17.7 L116.2 24.4 L115.4 31.1 L112 38.8 L105.4 48.8 L96.5 58.1 L93.2 59.4 L36.6 59.4 L37.3 65.4 L35.5 67 L33.3 66.1 L27.7 61 L20 52.1 L13.8 42.1 L12.9 35.5 L11.5 28.8 L11.1 23.3 L9.3 21.1 L11.1 18.9 L12.2 12.2 L14.4 7.8Z" fill="none" stroke="#801f00" stroke-width="6"/></g><g fill="none" stroke-linecap="round"><path stroke="#db6600" stroke-width="1.3" d="M19 34.4L19.4 33.2M86.3 44.9L87.6 44.3M91.2 44.9L92.3 43.7"/><path stroke="#006600" stroke-width="1.6" d="M27 50.2L27.5 48.7M20 41.1L20.5 40.6M27.7 46.8L28 46M23.2 34.4L23.8 33.2M90.4 34.8L91.5 34.2M86.5 31.7L87.8 30.4M82.3 49.1L83.3 48.4M66.9 41L67 40.1M69 42.4L69.1 40.9M59.8 43.3L59.9 42.7M55.1 35.9L55.9 35M65.8 42.8L65.9 41.7M32.8 59.7L35.5 65.2M18.8 36.6L19.3 35.7M21.5 41.1L22 40.1M17 32L17.6 31M18.6 26L19.1 25M26.4 33.7L26.9 32.8M86.3 43.5L90.1 34.4M95.1 36.6L95.7 35.7M98.4 38.2L99 37.2M88.5 49.3L89 48.3"/><path stroke="#ff6600" stroke-width="1.8" d="M29.6 53.5L30 52M26.5 50.2L27.7 48.9M27.5 57.4L28 55.9M26.6 49.3L28.2 47.8M22.4 42.7L22.9 41.7M84.3 47.7L85.7 47M98.5 37.1L99.2 36.5M81.4 39.7L82.1 39M88.3 40.8L88.7 39.8M58.2 29.5L58.6 28.3M75.3 27.5L75.5 26.7"/><path stroke="#006600" stroke-width="2" d="M23.4 41.4L24.4 39.9M22.7 48.5L23.2 47.3M20.4 32.1L20.5 30.8M91.3 41.6L92.2 40.5M95.2 39.8L96.5 38.6M105.3 28.7L105.9 28.1M66.2 29.9L66.3 28.9M64.3 30.3L64.7 29.5M71.3 34.3L71.3 33.4M65.1 41.8L65 40.9"/><path stroke="#db6600" stroke-width="1.8" d="M30.3 53.1L31.1 51.4M94.6 33.2L95 32.1M83.8 41.9L84.4 40.2"/><path stroke="#db6600" stroke-width="2.2" d="M16.2 36.9L16.8 35.6M18.2 32.4L18.6 31"/><path stroke="#ff6600" stroke-width="2.4" d="M27 54.7L27.2 53.8M92.2 37.4L93.2 36.6M82.6 43.9L83.5 43.2"/><path stroke="#ff6600" stroke-width="1.6" d="M25.3 45.4L25.8 44.2M20.5 43.3L20.5 42.6M81 36.8L81.4 36.1M71.7 33.4L72.1 33M68.5 30L68.8 29.3M15.3 33.7L15.8 32.8M20.8 28.2L21.3 27.3M24.1 39.3L24.7 38.4M58.8 31.1L59.2 30.1M64.4 34.9L64.7 33.9M69.9 36.7L70.3 35.7M55.3 38.4L55.6 37.4M53.1 37.1L53.4 36.1M76.3 31.6L76.7 30.6"/><path stroke="#db6600" stroke-width="2" d="M24.8 48.4L25.8 47.5"/><path stroke="#ff6600" stroke-width="1.1" d="M30.8 53.9L31.7 53M85.2 52.6L86 51.7"/><path stroke="#006600" stroke-width="2.4" d="M22.6 35.7L22.9 34.8M81.2 41.2L82.6 40.4"/><path stroke="#ff6600" stroke-width="2" d="M22.8 43.8L23.7 42.7M83 39.4L84.4 38.4M90.9 39.9L91.2 38.8M67.6 28.4L67.7 27.8"/><path stroke="#006600" stroke-width="1.8" d="M26.7 47.9L27.1 46.1M30.8 53.8L31.6 51.9M23.7 45.3L28.2 52.6M61.9 28.8L62.8 39.7M62.8 39.7L64.6 45.3"/><path stroke="#006600" stroke-width="2.7" d="M23.4 38.3L23.8 37.1"/><path stroke="#006600" stroke-width="2.2" d="M23.7 35.7L24 34.6M78.9 48.8L79.6 47.9M89.3 46.5L89.8 45.6M85 43.4L85.9 42.2M73.3 35.6L73.3 34.8"/><path stroke="#db6600" stroke-width="1.1" d="M29.9 57.2L30.2 56.1M103.4 33.8L103.8 32.6"/><path stroke="#ff6600" stroke-width="2.2" d="M26.1 39.6L26.8 38.6"/><path stroke="#ff6600" stroke-width="1.3" d="M26.1 49.1L27.2 48M99 39.3L100.2 38.7M94.5 32.9L95.3 32.4M80.2 43.1L80.8 41.9M64.3 42.6L64.7 42M65.2 42.6L65.1 42.1"/><path stroke="#ad6600" stroke-width="2.2" d="M92.8 34.3L93.7 33.1"/><path stroke="#006600" stroke-width="1.1" d="M96.5 29.9L97.4 29.1M83.8 45.5L84.5 44.4M73.2 26.6L72.1 33.3"/><path stroke="#ad6600" stroke-width="1.8" d="M80.5 49.6L81.1 49M78 53.2L78.7 52.4M84.6 41.4L85.5 40M99.4 37.3L101 36"/><path stroke="#db6600" stroke-width="2.4" d="M81.1 43.5L81.6 42.9"/><path stroke="#ad6600" stroke-width="1.6" d="M91.2 34.7L91.9 34M85.5 42.7L86.2 41.7"/><path stroke="#db6600" stroke-width="1.6" d="M88.6 45.2L89.2 44.4M94.1 36.1L95.2 35.1M90.8 35.8L91.7 35.1M65.4 36.9L65.4 36.3"/><path stroke="#ad6600" stroke-width="2.7" d="M86.9 44.5L87.3 43.7"/><path stroke="#006600" stroke-width="1.3" d="M75.9 47.6L76.8 46.1M68.7 38.4L68.6 37.5M68.1 25.3L66.3 32.4M57.9 32.8L58.3 32"/><path stroke="#ad6600" stroke-width="2.4" d="M90.3 30.5L91.1 29.7M102.6 29L102.9 27.9"/><path stroke="#246600" stroke-width="1.3" d="M72.3 40L72.3 38.6"/><path stroke="#246600" stroke-width="1.1" d="M67.4 32.5L67.3 31.3"/><path stroke="#246600" stroke-width="2" d="M61.1 24.4L61 23.7"/><path stroke="#526600" stroke-width="1.3" d="M60.5 29.1L60.5 28.4"/><path stroke="#526600" stroke-width="1.6" d="M66.1 31.3L66.1 29.9"/><path stroke="#ffb200" stroke-width="2.7" d="M19.5 46.6L28.2 58.8M80.1 57L90.1 48.8"/><path stroke="#ff9900" stroke-width="1.6" d="M29.1 48.8L33.7 57.9"/><path stroke="#006600" stroke-width="3.1" d="M28.2 52.6L32.8 59.7"/><path stroke="#ffb200" stroke-width="4.9" d="M69.2 57.9L77.2 47"/><path stroke="#006600" stroke-width="3.3" d="M73.6 58.3L82.7 49.7M82.7 49.7L90.9 37.9"/><path stroke="#ff6600" stroke-width="1.9" d="M82.4 42L83.1 40.9M93.3 45.8L93.9 44.7M77.3 40.5L78 39.4M97.3 41.6L97.9 40.5"/></g></g></g></g></g>
<rect class="ax" x="21" y="264.3" width="119.3" height="67.9"/>
<text class="k" x="37" y="341.5" text-anchor="middle">−20</text><text class="k" x="72.1" y="341.5" text-anchor="middle">0</text><text class="k" x="106.2" y="341.5" text-anchor="middle">20</text><text class="k" x="140.3" y="341.5" text-anchor="middle">40</text><text class="k" x="18.4" y="266.5" text-anchor="end">40</text><text class="k" x="18.4" y="283.5" text-anchor="end">30</text><text class="k" x="18.4" y="300.4" text-anchor="end">20</text><text class="k" x="18.4" y="317.4" text-anchor="end">10</text><text class="k" x="18.4" y="334.4" text-anchor="end">0</text><path class="ax" d="M38 332.2v-1.2M38 264.3v1.2M72.1 332.2v-1.2M72.1 264.3v1.2M106.2 332.2v-1.2M106.2 264.3v1.2M21 281.3h1.2M140.3 281.3h-1.2M21 298.2h1.2M140.3 298.2h-1.2M21 315.2h1.2M140.3 315.2h-1.2"/>
<text x="81" y="351.4" text-anchor="middle" class="k xl" style="font-size:8.4px;letter-spacing:0.3px">x in mm</text><text transform="translate(7.2 298.1) rotate(-90)" text-anchor="middle" class="k yl" style="font-size:8.4px;letter-spacing:0.3px">y in mm</text>
<rect x="148.3" y="264.3" width="8.8" height="67.9" fill="url(#cb)"/><text class="k" x="160.1" y="266.6" style="font-size:7.4px">4</text><text class="k" x="160.1" y="283.6" style="font-size:7.4px">2</text><text class="k" x="160.1" y="300.6" style="font-size:7.4px">0</text><text class="k" x="158.3" y="317.5" style="font-size:7.4px">−2</text><text class="k" x="158.3" y="334.5" style="font-size:7.4px">−4</text><text class="k" x="158.5" y="259.9" style="font-size:8px;letter-spacing:0.2px">×10<tspan dy="-3" style="font-size:5.6px">6</tspan></text><text transform="translate(175.9 299.2) rotate(-90)" text-anchor="middle" class="k cl" style="font-size:9.1px;letter-spacing:0.2px"><tspan style="font-style:italic">D</tspan><tspan dy="1.6" style="font-size:6px;font-style:italic;letter-spacing:0.35px">MH,TT,xx</tspan><tspan dy="-1.6"> in m</tspan><tspan dy="-3" style="font-size:6px">2</tspan><tspan dy="3"> s</tspan><tspan dy="-3" style="font-size:6px">−3</tspan></text>
<g transform="translate(206.5 261.8)" clip-path="url(#c32)"><g transform="rotate(25 61 36)"><g filter="url(#f32)"><g transform="rotate(-25 61 36)"><rect x="-30" y="-40" width="182" height="152" fill="#835700"/><g filter="url(#bl)"><ellipse cx="26.2" cy="37.7" rx="8.9" ry="25.5" fill="#80ff00" transform="rotate(-15 26.2 37.7)"/><ellipse cx="85.4" cy="33.3" rx="12.2" ry="27.7" fill="#80e600" transform="rotate(35 85.4 33.3)"/><ellipse cx="56.6" cy="31.1" rx="12.2" ry="21.1" fill="#782e00" transform="rotate(0 56.6 31.1)"/><path d="M20 4.9 L110.9 4.9 L114.2 7.1 L115.8 12.2 L117.6 15.1 L115.8 17.7 L116.2 24.4 L115.4 31.1 L112 38.8 L105.4 48.8 L96.5 58.1 L93.2 59.4 L36.6 59.4 L37.3 65.4 L35.5 67 L33.3 66.1 L27.7 61 L20 52.1 L13.8 42.1 L12.9 35.5 L11.5 28.8 L11.1 23.3 L9.3 21.1 L11.1 18.9 L12.2 12.2 L14.4 7.8Z" fill="none" stroke="#801f00" stroke-width="6"/></g><g fill="none" stroke-linecap="round"><path stroke="#ff6600" stroke-width="2.7" d="M23.8 32.5L24.7 33.4"/><path stroke="#ff6600" stroke-width="2" d="M29.4 41.4L29.4 42.2M19.6 37.1L20.7 38.7M22.5 36.4L23 37M90.3 21.8L90.7 20.2M85.7 23.4L86.3 21.8"/><path stroke="#ff6600" stroke-width="2.2" d="M25 33.7L25.3 35.5M23.6 22.8L24.3 24.7M23.7 37.9L24.1 38.8M72.2 52.8L73 51.8"/><path stroke="#ff6600" stroke-width="1.1" d="M32.8 37.1L32.9 38.5"/><path stroke="#ff6600" stroke-width="1.3" d="M27 29.1L27.1 30M23.5 28.6L24.1 29.7M22.7 43.1L23.1 44.4M24.4 31.4L24.9 32.6M72.6 44.5L73.4 43.9"/><path stroke="#db6600" stroke-width="2.2" d="M23.5 36L24.7 37.4M24 38L24.2 38.8M74.3 50.6L75.1 49.9M91.5 26.1L92.6 24.9"/><path stroke="#006600" stroke-width="2" d="M24.1 41.9L24 43.2M17.1 29.5L17.9 30.7M25.3 50.2L25.7 50.9M26.3 36.6L26.4 37.2M18.8 36.3L19.9 37.7M75.2 37.2L75.7 36.1M92.9 27.9L93.2 26.5"/><path stroke="#006600" stroke-width="1.8" d="M21.2 26.7L22.3 28.2M21.2 31.7L21.8 32.3M21.7 18.6L22.6 19.9M81.9 33.1L83 32M80.1 37.5L80.5 35.9M93.2 25.5L93.8 24.4M86 30.6L87 29.4"/><path stroke="#006600" stroke-width="1.6" d="M23.9 38.4L23.9 40.1M24.8 39.5L25 40.8M28.4 37.6L29.1 38.4M27.9 41.9L28.4 42.6M30.9 55.1L31.4 56.1M88.6 33.8L89.2 32.3M86.5 40.2L86.7 39.3M93.8 23.1L94.9 21.8M81.4 42.1L81.6 41.4M77.7 39.7L78.2 39.1M84 28.1L85.2 27.3"/><path stroke="#006600" stroke-width="1.3" d="M28.2 50.2L28.3 51.5M32.1 51.2L32.1 52.6M22.1 17.6L22.7 18.8M27.9 31L28.5 32M84.6 28.2L85.4 27.5M81.1 48.4L81.9 47.9M90.3 26.4L90.6 25.5"/><path stroke="#006600" stroke-width="2.4" d="M30.4 55.9L31.1 57.1M23.7 27.5L24.3 28.5M25.4 43.7L26.4 44.8M80.3 42L81.3 41.1"/><path stroke="#ff6600" stroke-width="1.8" d="M21.8 42.1L22.4 43.4M27.3 40.3L27.6 42M92.8 26.4L94.1 25.5"/><path stroke="#db6600" stroke-width="2.9" d="M25 40.8L25.2 41.9"/><path stroke="#006600" stroke-width="2.9" d="M23 23.1L23.6 24.1M22 34.1L22.6 35.3"/><path stroke="#ff6600" stroke-width="1.6" d="M21.3 28.9L22.3 29.9M90.4 28.2L90.8 27.5M78.5 42.1L79.3 40.7M78 40.7L78.4 39.8M99.6 22.2L101 20.9M83.3 34.4L84.3 33.6M81.8 46.7L82.3 46.1M79.1 36.8L79.6 35.9M101.4 18.2L101.8 17.6"/><path stroke="#006600" stroke-width="2.7" d="M23.7 41.9L23.8 43.5M82.5 42.3L83 40.9M69.9 57L74.3 50.6"/><path stroke="#db6600" stroke-width="2.7" d="M22.4 35.1L22.7 35.9"/><path stroke="#006600" stroke-width="2.2" d="M25.1 20.5L25.7 21.6M84.3 25.7L86 24.3M82.7 24L83.3 22.1M78.8 46.4L79.4 45.6M85.7 34.1L86.2 33.3M81.4 36.2L85.8 33.3"/><path stroke="#ff6600" stroke-width="2.4" d="M31.7 52.3L32.2 53.7M84.1 38.8L84.5 38.1M74.6 45.1L74.9 43.5"/><path stroke="#006600" stroke-width="3.1" d="M21.1 24L21.6 24.8M76 36.8L76.9 36.1"/><path stroke="#ad6600" stroke-width="1.8" d="M87.9 37.7L88.5 37.2M76.3 47.9L77.1 46.6M75.1 41.8L75.7 40.9"/><path stroke="#ad6600" stroke-width="1.6" d="M76.7 33.4L77.2 32M84 36.4L84.6 35.3"/><path stroke="#ad6600" stroke-width="2" d="M89.7 27.7L91.1 26.8M75.3 40.5L76.3 39.2M86.2 38.2L86.8 37.2M93.2 25.9L93.9 25M91.9 16.3L92.3 15.9M82.9 25.1L83.3 23.6"/><path stroke="#db6600" stroke-width="3.1" d="M86.3 33.4L86.9 32.3"/><path stroke="#db6600" stroke-width="1.8" d="M84.3 46L84.7 44.5"/><path stroke="#006600" stroke-width="3.3" d="M78.8 32.9L79.4 32"/><path stroke="#ad6600" stroke-width="2.4" d="M96.2 17L96.7 15.6"/><path stroke="#db6600" stroke-width="2" d="M89.6 25.6L91.1 24.3"/><path stroke="#ad6600" stroke-width="1.3" d="M76.9 49.4L77.6 48.7"/><path stroke="#ad6600" stroke-width="2.2" d="M77 50.2L77.2 49.2"/><path stroke="#db6600" stroke-width="2.4" d="M94.4 31.9L94.9 30.7"/><path stroke="#ad6600" stroke-width="3.1" d="M90.7 41.2L91.2 40.4"/><path stroke="#ad6600" stroke-width="2.7" d="M85.6 44.2L86.8 43.4"/><path stroke="#006600" stroke-width="2.6" d="M20.9 33L21.6 31.8M22.7 39.4L23.4 38.2M26.5 36.8L27.2 35.6M23.6 45.9L24.3 44.6M29.2 43L29.9 41.8M26.5 52.1L27.2 50.9M30.9 49.4L31.6 48.2M31.8 56.7L32.5 55.5M20.1 28.6L20.8 27.3M29.2 31.2L29.9 30M20.7 17.2L21.4 16M26.3 16.1L27 14.9M21.8 22.8L22.5 21.6"/><path stroke="#ff6600" stroke-width="2.3" d="M18.3 35.8L18.9 34.7M28.3 33.8L28.9 32.7M21 42.9L21.6 41.8M32.7 41.1L33.4 40.1M23.6 49.3L24.3 48.3M33.6 53.1L34.3 52M29.2 54.9L29.8 53.8M34.7 61.1L35.4 60M17.4 20.5L18.1 19.4M24.1 19.4L24.7 18.3M29.6 13.8L30.3 12.8"/><path stroke="#ffb200" stroke-width="5.5" d="M67.7 57.9L75 41.5"/><path stroke="#ffb200" stroke-width="3.1" d="M75 57.9L82.3 50.6"/><path stroke="#006600" stroke-width="4" d="M74.3 50.6L78.1 43.5"/><path stroke="#006600" stroke-width="2.1" d="M76.4 33L77.1 31.8M87.3 39.4L88 38.2M87.3 22.8L88 21.6M92.8 25L93.5 23.8M80.6 28.3L81.3 27.1"/><path stroke="#ff6600" stroke-width="2.1" d="M72 36.8L72.7 35.5M81.9 42.1L82.7 40.9M85.5 45.9L86.2 44.6M89.3 33L90 31.8M77.3 29.5L78 28.2M82.8 22.8L83.5 21.6M97.2 20.6L98 19.3"/><path stroke="#db6600" stroke-width="1.6" d="M95.1 13.8L95.7 12.8M101.8 22.6L102.3 21.7M84 13.8L84.6 12.8"/></g></g></g></g></g>
<rect class="ax" x="207.5" y="264.3" width="119.5" height="67.9"/>
<text class="k" x="223.6" y="341.5" text-anchor="middle">−20</text><text class="k" x="258.7" y="341.5" text-anchor="middle">0</text><text class="k" x="292.9" y="341.5" text-anchor="middle">20</text><text class="k" x="327" y="341.5" text-anchor="middle">40</text><text class="k" x="204.9" y="266.5" text-anchor="end">40</text><text class="k" x="204.9" y="283.5" text-anchor="end">30</text><text class="k" x="204.9" y="300.4" text-anchor="end">20</text><text class="k" x="204.9" y="317.4" text-anchor="end">10</text><text class="k" x="204.9" y="334.4" text-anchor="end">0</text><path class="ax" d="M224.6 332.2v-1.2M224.6 264.3v1.2M258.7 332.2v-1.2M258.7 264.3v1.2M292.9 332.2v-1.2M292.9 264.3v1.2M207.5 281.3h1.2M327 281.3h-1.2M207.5 298.2h1.2M327 298.2h-1.2M207.5 315.2h1.2M327 315.2h-1.2"/>
<text x="267.6" y="351.4" text-anchor="middle" class="k xl" style="font-size:8.4px;letter-spacing:0.3px">x in mm</text><text transform="translate(193.7 298.1) rotate(-90)" text-anchor="middle" class="k yl" style="font-size:8.4px;letter-spacing:0.3px">y in mm</text>
<rect x="335" y="264.3" width="8.8" height="67.9" fill="url(#cb)"/><text class="k" x="346.8" y="266.6" style="font-size:7.4px">4</text><text class="k" x="346.8" y="283.6" style="font-size:7.4px">2</text><text class="k" x="346.8" y="300.6" style="font-size:7.4px">0</text><text class="k" x="345" y="317.5" style="font-size:7.4px">−2</text><text class="k" x="345" y="334.5" style="font-size:7.4px">−4</text><text class="k" x="345.2" y="259.9" style="font-size:8px;letter-spacing:0.2px">×10<tspan dy="-3" style="font-size:5.6px">6</tspan></text><text transform="translate(362.6 299.2) rotate(-90)" text-anchor="middle" class="k cl" style="font-size:9.1px;letter-spacing:0.2px"><tspan style="font-style:italic">D</tspan><tspan dy="1.6" style="font-size:6px;font-style:italic;letter-spacing:0.35px">MH,TT,yy</tspan><tspan dy="-1.6"> in m</tspan><tspan dy="-3" style="font-size:6px">2</tspan><tspan dy="3"> s</tspan><tspan dy="-3" style="font-size:6px">−3</tspan></text>
<g transform="translate(390.5 261.8)" clip-path="url(#c33)"><g transform="rotate(25 61 36)"><g filter="url(#f33)"><g transform="rotate(-25 61 36)"><rect x="-30" y="-40" width="182" height="152" fill="#835700"/><g filter="url(#bl)"><ellipse cx="25.5" cy="41" rx="9.3" ry="22.2" fill="#80e600" transform="rotate(-15 25.5 41)"/><ellipse cx="82.5" cy="41" rx="12.9" ry="21.1" fill="#80f200" transform="rotate(35 82.5 41)"/><ellipse cx="55.5" cy="33.3" rx="12.2" ry="21.1" fill="#7a2e00" transform="rotate(0 55.5 33.3)"/><path d="M20 4.9 L110.9 4.9 L114.2 7.1 L115.8 12.2 L117.6 15.1 L115.8 17.7 L116.2 24.4 L115.4 31.1 L112 38.8 L105.4 48.8 L96.5 58.1 L93.2 59.4 L36.6 59.4 L37.3 65.4 L35.5 67 L33.3 66.1 L27.7 61 L20 52.1 L13.8 42.1 L12.9 35.5 L11.5 28.8 L11.1 23.3 L9.3 21.1 L11.1 18.9 L12.2 12.2 L14.4 7.8Z" fill="none" stroke="#801f00" stroke-width="6"/></g><g fill="none" stroke-linecap="round"><path stroke="#ff6600" stroke-width="2.9" d="M21.1 42.4L21.6 43.2M27.7 44L28.2 45M83 41.8L83.4 40.9"/><path stroke="#db6600" stroke-width="2" d="M27.8 52L28.1 53.4M23.5 43.9L23.6 45M83.4 43.9L83.7 43M79.5 41.6L80.5 40.9"/><path stroke="#ff6600" stroke-width="1.8" d="M20.4 24.6L20.7 26.2M21.5 27.7L21.8 28.8M29.8 39.7L30.1 40.2M28.1 36.7L28.1 38M85.5 45.3L86 44.5M85.4 42.6L86.2 41.2M76.6 36L77.5 35.4"/><path stroke="#006600" stroke-width="1.3" d="M17.9 33.7L18.2 34.9M24.5 45L24.5 45.9M83.8 44.9L84.1 43.9"/><path stroke="#006600" stroke-width="2" d="M24.5 30.9L25 32.8M33.1 54.1L33.1 54.9M78.7 36.7L79.4 36.2M70.3 51L70.8 49.7M81.4 40.5L81.9 39.8"/><path stroke="#ff6600" stroke-width="1.6" d="M21.6 35.6L21.7 37.3M25.1 41.6L25.4 42.3M31.2 48.3L31.5 50.3M24.5 43.2L24.7 43.9M24.1 28L24 29.5M87.3 35.1L88.7 34"/><path stroke="#ff6600" stroke-width="1.1" d="M22 43.6L22.5 44.7M78.2 34.2L79.1 33.4M86.4 41.5L87.7 40.7"/><path stroke="#006600" stroke-width="1.6" d="M23.8 38L24.2 39.1M21.9 37.4L22 38.1M18.6 28.8L18.6 30.2M84.7 33.1L85.3 31.2M90 39.6L91 39M92.1 33.9L92.8 32.5M85.2 49.3L86.4 48.4M76.7 45.6L77.1 44.8M88.4 32.2L89.1 31.7M33.1 57.9L35.9 64.8"/><path stroke="#006600" stroke-width="2.7" d="M19.8 30.7L20.2 31.4"/><path stroke="#ff6600" stroke-width="2.4" d="M28.6 47.3L29.2 48.6M30.7 43L30.9 44M72.8 45.9L73.6 44.6M76.4 40.4L77.2 39M81.9 36.8L82.7 35.5M79 45.1L79.8 43.7M88.3 36.2L89.1 34.8M92.8 40.6L93.6 39.2M75 34L75.8 32.6"/><path stroke="#006600" stroke-width="2.4" d="M17.2 32.6L17.8 34M81.1 42.5L82 41.7"/><path stroke="#db6600" stroke-width="1.6" d="M23.1 41.9L24 43.1M79.9 32.8L80.3 32.1"/><path stroke="#ff6600" stroke-width="2.2" d="M21 42.1L21.3 42.9M79.7 54.9L80.3 54.3"/><path stroke="#006600" stroke-width="1.8" d="M29.4 45.1L30.2 47.1M81.7 35.2L83.1 33.8M81.2 29.6L82.7 28.3M72.3 57.9L76.8 52.6M81.4 52.6L84.1 47.9"/><path stroke="#db6600" stroke-width="1.3" d="M32.1 47.5L32.1 48.4M74 52.5L74.9 51.4"/><path stroke="#ff6600" stroke-width="2.7" d="M21.9 27L22.4 27.9"/><path stroke="#ff6600" stroke-width="2" d="M83.7 31L84.1 29.2M83.7 36.7L84.3 35.5M85.2 42.6L85.6 41.5M82.6 51.2L82.9 50.2M84.2 39.4L84.9 38.7"/><path stroke="#ad6600" stroke-width="2.4" d="M81.4 38.4L82.1 37.7"/><path stroke="#ff6600" stroke-width="1.3" d="M81.5 36.3L82.7 35.5M76.6 48.9L77.4 47.5M80.4 31.3L81.4 30.4M87.6 37.8L88.4 37"/><path stroke="#ad6600" stroke-width="1.8" d="M76.8 38.5L77.6 38M90.8 34.7L91.1 34M86.5 43.7L87 41.7"/><path stroke="#006600" stroke-width="2.9" d="M86.2 42.8L86.8 42.1"/><path stroke="#db6600" stroke-width="1.1" d="M85.2 41.2L85.8 40"/><path stroke="#006600" stroke-width="1.1" d="M83.9 27L84.6 26M79.3 51.2L79.9 50.1"/><path stroke="#db6600" stroke-width="1.8" d="M85.1 32.9L85.8 32.3M91.6 36.5L92.3 35.7M84 33.4L85.3 32"/><path stroke="#ad6600" stroke-width="2.2" d="M73.5 56.5L74.3 55.6"/><path stroke="#db6600" stroke-width="2.4" d="M81.9 49.8L82.7 49.1"/><path stroke="#006600" stroke-width="2.2" d="M84.2 29.3L84.6 28.2"/><path stroke="#ad6600" stroke-width="2" d="M85.6 48.2L86.1 47.5"/><path stroke="#ad6600" stroke-width="1.6" d="M79 42.6L80.4 41.2"/><path stroke="#ffb200" stroke-width="2.2" d="M24.8 48.8L27.7 54.3M75.9 55.2L79.4 49.7"/><path stroke="#ff6600" stroke-width="2.1" d="M22.7 43L23.4 41.8M20.1 36.8L20.8 35.5M27.4 57.6L28.1 56.4M20.7 22.8L21.4 21.6M17.4 29.5L18.1 28.2M26.3 27.2L27 26"/><path stroke="#006600" stroke-width="1.9" d="M21.9 51.1L22.5 50M31 47.6L31.6 46.5M31.9 53.1L32.5 52M21.9 29.4L22.5 28.3M18.5 42.7L19.2 41.6"/><path stroke="#ffb200" stroke-width="2.7" d="M69.4 57L74.1 50.6"/><path stroke="#006600" stroke-width="2.1" d="M75.5 47.6L76.2 46.4M79.1 41.2L79.8 40M83.7 43L84.4 41.8M87.3 45L88 43.8M85.5 36.8L86.2 35.5M81.1 57.6L81.8 56.4M89.5 31.7L90.2 30.4"/></g></g></g></g></g>
<rect class="ax" x="391.5" y="264.3" width="119.5" height="67.9"/>
<text class="k" x="407.6" y="341.5" text-anchor="middle">−20</text><text class="k" x="442.7" y="341.5" text-anchor="middle">0</text><text class="k" x="476.9" y="341.5" text-anchor="middle">20</text><text class="k" x="511" y="341.5" text-anchor="middle">40</text><text class="k" x="388.9" y="266.5" text-anchor="end">40</text><text class="k" x="388.9" y="283.5" text-anchor="end">30</text><text class="k" x="388.9" y="300.4" text-anchor="end">20</text><text class="k" x="388.9" y="317.4" text-anchor="end">10</text><text class="k" x="388.9" y="334.4" text-anchor="end">0</text><path class="ax" d="M408.6 332.2v-1.2M408.6 264.3v1.2M442.7 332.2v-1.2M442.7 264.3v1.2M476.9 332.2v-1.2M476.9 264.3v1.2M391.5 281.3h1.2M511 281.3h-1.2M391.5 298.2h1.2M511 298.2h-1.2M391.5 315.2h1.2M511 315.2h-1.2"/>
<text x="451.6" y="351.4" text-anchor="middle" class="k xl" style="font-size:8.4px;letter-spacing:0.3px">x in mm</text><text transform="translate(377.7 298.1) rotate(-90)" text-anchor="middle" class="k yl" style="font-size:8.4px;letter-spacing:0.3px">y in mm</text>
<rect x="519" y="264.3" width="8.8" height="67.9" fill="url(#cb)"/><text class="k" x="530.8" y="266.6" style="font-size:7.4px">4</text><text class="k" x="530.8" y="283.6" style="font-size:7.4px">2</text><text class="k" x="530.8" y="300.6" style="font-size:7.4px">0</text><text class="k" x="529" y="317.5" style="font-size:7.4px">−2</text><text class="k" x="529" y="334.5" style="font-size:7.4px">−4</text><text class="k" x="529.2" y="259.9" style="font-size:8px;letter-spacing:0.2px">×10<tspan dy="-3" style="font-size:5.6px">6</tspan></text><text transform="translate(546.6 299.2) rotate(-90)" text-anchor="middle" class="k cl" style="font-size:9.1px;letter-spacing:0.2px"><tspan style="font-style:italic">D</tspan><tspan dy="1.6" style="font-size:6px;font-style:italic;letter-spacing:0.35px">MH,TT,xy</tspan><tspan dy="-1.6"> in m</tspan><tspan dy="-3" style="font-size:6px">2</tspan><tspan dy="3"> s</tspan><tspan dy="-3" style="font-size:6px">−3</tspan></text>
<g transform="translate(20 380.6)" clip-path="url(#c41)"><g transform="rotate(25 61 36)"><g filter="url(#f41)"><g transform="rotate(-25 61 36)"><rect x="-30" y="-40" width="182" height="152" fill="#835900"/><g filter="url(#bl)"><ellipse cx="22.6" cy="41" rx="8.9" ry="21.1" fill="#80d900" transform="rotate(-25 22.6 41)"/><ellipse cx="66.5" cy="31.1" rx="14.4" ry="14.4" fill="#80f200" transform="rotate(0 66.5 31.1)"/><ellipse cx="89.8" cy="38.8" rx="12.9" ry="23.3" fill="#85e600" transform="rotate(45 89.8 38.8)"/><path d="M20 4.9 L110.9 4.9 L114.2 7.1 L115.8 12.2 L117.6 15.1 L115.8 17.7 L116.2 24.4 L115.4 31.1 L112 38.8 L105.4 48.8 L96.5 58.1 L93.2 59.4 L36.6 59.4 L37.3 65.4 L35.5 67 L33.3 66.1 L27.7 61 L20 52.1 L13.8 42.1 L12.9 35.5 L11.5 28.8 L11.1 23.3 L9.3 21.1 L11.1 18.9 L12.2 12.2 L14.4 7.8Z" fill="none" stroke="#801f00" stroke-width="6"/></g><g fill="none" stroke-linecap="round"><path stroke="#ff6600" stroke-width="1.3" d="M18.8 40.8L18.8 39M22.8 41.6L23.6 40.5M80 36.9L80.6 36"/><path stroke="#ff6600" stroke-width="2.7" d="M21.4 42.1L22 41.3M25.9 49.7L26.2 48.6M16.9 25.7L17.6 25M86.9 35.2L87.4 34.4"/><path stroke="#db6600" stroke-width="2.2" d="M23 38.5L23.2 37.6M89.5 45.2L90.6 44M73.8 30.5L74.2 29.7"/><path stroke="#ff6600" stroke-width="1.6" d="M23.1 36.3L23.5 34.7M28 40L28.6 38.2M87.4 41.5L87.8 40.6M102.5 28.6L103.3 27.9M83.9 34.8L84.4 34.2M91.7 44.4L92.1 43.7M86.9 34.1L87.9 33.1M91.3 42.5L91.9 41.6M14.2 33.7L14.7 32.8M21.9 27.1L22.4 26.2M55.3 33.8L55.6 32.8M68.6 34.9L68.9 33.9M59.7 42.6L60.1 41.6M75.2 27.1L75.6 26.1"/><path stroke="#db6600" stroke-width="1.3" d="M25.3 44.3L25.8 42.7M25.6 53.5L25.6 52.6M98.9 35.6L99.5 34.9M99.2 26.3L100 24.7M68.9 31.1L69.6 30"/><path stroke="#006600" stroke-width="2.7" d="M24 40.2L24.4 39.1M81.7 50.2L82.3 49"/><path stroke="#006600" stroke-width="2" d="M21.4 51.4L22.4 49.8M95.2 30.9L95.8 30.1M82.1 51.5L83.3 50.3M99.9 32.4L100.6 31.7M23.7 47.2L28.2 53.7"/><path stroke="#db6600" stroke-width="2" d="M25.8 46.5L25.8 45.4M87.8 33.3L88.3 32.8M63.6 38L63.8 37"/><path stroke="#ff6600" stroke-width="1.8" d="M21.3 32.3L21.7 31.9M24.4 42.2L24.7 41.4M25 49.5L25.8 47.9M31.5 54.3L32.2 52.7M18.2 31L18.7 30M86.4 49.1L87.2 48.7M77 49.5L77.8 48.5M80.9 43.4L81.8 42.1M95.5 32L96.3 30.4M84.1 50.9L85.3 50.2M82.8 38.7L83.6 38.3M55.9 31.7L55.9 30.9"/><path stroke="#ff6600" stroke-width="2" d="M20.6 30.9L21 29.2M22.6 41.6L23.2 40.5M90.8 27.8L91.4 27.1M81 50.5L82 49.5"/><path stroke="#006600" stroke-width="1.8" d="M26.7 54.2L27 53.1M24.3 48.3L24.6 47.5M89.3 34.6L90.6 33.5M95.1 42L95.7 41.4M57.2 25.4L57 24.5M75 25.6L75.1 24.5M61.9 30.8L62.8 39M66.3 26.4L64.6 32.6"/><path stroke="#006600" stroke-width="2.2" d="M22.6 34.3L23 32.9M23.7 52.9L24.6 51.8"/><path stroke="#006600" stroke-width="1.1" d="M17.3 40.4L17.3 39.1M24.3 38.6L25 37.5M63.9 23.2L64.4 22.3M65.3 34.4L65.4 33.3"/><path stroke="#ff6600" stroke-width="2.2" d="M28.1 48.4L28.4 47.7M89.9 32.7L90.2 31.9M77.4 28L77.8 27.2"/><path stroke="#ff6600" stroke-width="1.1" d="M16.4 34.6L16.6 33.4"/><path stroke="#006600" stroke-width="2.9" d="M21.5 43.7L22.1 43M86.3 42.1L87 41.3"/><path stroke="#006600" stroke-width="1.6" d="M15.3 32.9L16.2 31.8M86.9 38L87.3 36.8M98.8 36.2L99.4 35.9M94.3 42.7L94.9 41.3M57.5 38.3L57.6 37.7M32.8 60.8L35.5 65.4M17.9 36.8L18.5 35.9M20.6 41.3L21.1 40.4M17 32.2L17.6 31.3M16.4 24.9L16.9 23.9M24.1 33.7L24.7 32.8M70 33.1L70.2 32.1M58.9 36.9L59.1 35.9M65.3 43.1L65.6 42.1M70.8 24.9L71.1 23.9M57.5 29.4L57.8 28.3M85.4 44.4L88.3 36.4M94.2 37.7L94.8 36.8M91.6 43.1L92.1 42.1M89.6 50.4L90.1 49.5"/><path stroke="#ad6600" stroke-width="1.6" d="M89.7 31.8L90.4 31.4M80.4 42.6L81.7 41.8M96.3 26.2L97.3 25.6"/><path stroke="#db6600" stroke-width="1.8" d="M89.5 39L90.5 38.3"/><path stroke="#db6600" stroke-width="1.6" d="M91.2 28.9L91.6 28.2M93.3 45.9L93.9 45.2M74.7 30.1L75.5 29.2M63.4 27.4L63.5 26.8M56.3 33.5L57.2 32.4M97.3 29.3L97.9 28.4M101.8 24.9L102.3 23.9M104 20.4L104.5 19.5"/><path stroke="#ad6600" stroke-width="2.4" d="M94.2 40.9L95.5 40.3"/><path stroke="#ad6600" stroke-width="2" d="M86.6 44.8L87.3 43.5"/><path stroke="#ad6600" stroke-width="1.8" d="M81.6 44.9L82.2 43.2M101.3 22.2L101.6 21.6M88.6 43.8L89.2 42.1"/><path stroke="#006600" stroke-width="2.4" d="M98 38.8L99.1 38.2"/><path stroke="#ad6600" stroke-width="1.3" d="M92.9 32.9L93.7 31.7M81.1 38.4L81.8 37.7M101.2 38.6L101.7 37.3"/><path stroke="#ad6600" stroke-width="2.9" d="M99.3 33.5L99.9 32.6"/><path stroke="#db6600" stroke-width="2.4" d="M77.6 48.7L78.1 47.9"/><path stroke="#db6600" stroke-width="1.1" d="M80.2 35.3L81.3 34.6M56.5 31.3L57 30.5"/><path stroke="#006600" stroke-width="1.3" d="M80.5 37.9L81.4 37.4M67.8 29.1L68.5 27.9M68.5 32.8L68.4 31.6"/><path stroke="#526600" stroke-width="1.6" d="M59 28L59 27.4M63.7 24.3L64.1 23.7"/><path stroke="#526600" stroke-width="1.3" d="M55.6 26L56.2 24.9"/><path stroke="#526600" stroke-width="1.8" d="M63.3 33.9L63.5 32.6M56.6 37.8L57.2 36.8M74.1 34.4L74.8 33.4"/><path stroke="#246600" stroke-width="1.6" d="M69 31.4L68.9 30.5"/><path stroke="#526600" stroke-width="2" d="M70.3 24L70.7 23.5"/><path stroke="#ffb200" stroke-width="2.7" d="M19.1 47.2L27.3 58.1"/><path stroke="#ff9900" stroke-width="1.6" d="M29.1 50.8L33.7 59"/><path stroke="#006600" stroke-width="3.3" d="M28.2 53.7L32.8 60.8"/><path stroke="#ffb200" stroke-width="7.1" d="M68.5 58.1L78.3 43.5"/><path stroke="#ffb200" stroke-width="3.5" d="M79.2 57.2L90.9 48.4"/><path stroke="#006600" stroke-width="4.2" d="M73.2 58.1L81.9 50.8M81.9 50.8L90.1 40.8"/><path stroke="#ff6600" stroke-width="2.1" d="M78.8 38.8L79.5 37.5M81.7 36.1L82.4 34.9M87.3 33.9L88 32.7"/></g></g></g></g></g>
<rect class="ax" x="21" y="383.1" width="119.3" height="68"/>
<text class="k" x="37" y="460.4" text-anchor="middle">−20</text><text class="k" x="72.1" y="460.4" text-anchor="middle">0</text><text class="k" x="106.2" y="460.4" text-anchor="middle">20</text><text class="k" x="140.3" y="460.4" text-anchor="middle">40</text><text class="k" x="18.4" y="385.3" text-anchor="end">40</text><text class="k" x="18.4" y="402.3" text-anchor="end">30</text><text class="k" x="18.4" y="419.3" text-anchor="end">20</text><text class="k" x="18.4" y="436.3" text-anchor="end">10</text><text class="k" x="18.4" y="453.3" text-anchor="end">0</text><path class="ax" d="M38 451.1v-1.2M38 383.1v1.2M72.1 451.1v-1.2M72.1 383.1v1.2M106.2 451.1v-1.2M106.2 383.1v1.2M21 400.1h1.2M140.3 400.1h-1.2M21 417.1h1.2M140.3 417.1h-1.2M21 434.1h1.2M140.3 434.1h-1.2"/>
<text x="81" y="470.3" text-anchor="middle" class="k xl" style="font-size:8.4px;letter-spacing:0.3px">x in mm</text><text transform="translate(7.2 416.9) rotate(-90)" text-anchor="middle" class="k yl" style="font-size:8.4px;letter-spacing:0.3px">y in mm</text>
<rect x="148.3" y="383.1" width="8.8" height="68" fill="url(#cb)"/><text class="k" x="160.1" y="385.4" style="font-size:7.4px">4</text><text class="k" x="160.1" y="402.4" style="font-size:7.4px">2</text><text class="k" x="160.1" y="419.4" style="font-size:7.4px">0</text><text class="k" x="158.3" y="436.4" style="font-size:7.4px">−2</text><text class="k" x="158.3" y="453.4" style="font-size:7.4px">−4</text><text class="k" x="158.5" y="378.7" style="font-size:8px;letter-spacing:0.2px">×10<tspan dy="-3" style="font-size:5.6px">6</tspan></text><text transform="translate(175.9 418.1) rotate(-90)" text-anchor="middle" class="k cl" style="font-size:9.1px;letter-spacing:0.2px"><tspan style="font-style:italic">D</tspan><tspan dy="1.6" style="font-size:6px;font-style:italic;letter-spacing:0.35px">HL,TT,xx</tspan><tspan dy="-1.6"> in m</tspan><tspan dy="-3" style="font-size:6px">2</tspan><tspan dy="3"> s</tspan><tspan dy="-3" style="font-size:6px">−3</tspan></text>
<g transform="translate(206.5 380.6)" clip-path="url(#c42)"><g transform="rotate(25 61 36)"><g filter="url(#f42)"><g transform="rotate(-25 61 36)"><rect x="-30" y="-40" width="182" height="152" fill="#835700"/><g filter="url(#bl)"><ellipse cx="26.2" cy="37.7" rx="8.9" ry="25.5" fill="#80f200" transform="rotate(-15 26.2 37.7)"/><ellipse cx="85.4" cy="33.3" rx="12.2" ry="27.7" fill="#80e600" transform="rotate(35 85.4 33.3)"/><ellipse cx="56.6" cy="31.1" rx="12.2" ry="21.1" fill="#782e00" transform="rotate(0 56.6 31.1)"/><path d="M20 4.9 L110.9 4.9 L114.2 7.1 L115.8 12.2 L117.6 15.1 L115.8 17.7 L116.2 24.4 L115.4 31.1 L112 38.8 L105.4 48.8 L96.5 58.1 L93.2 59.4 L36.6 59.4 L37.3 65.4 L35.5 67 L33.3 66.1 L27.7 61 L20 52.1 L13.8 42.1 L12.9 35.5 L11.5 28.8 L11.1 23.3 L9.3 21.1 L11.1 18.9 L12.2 12.2 L14.4 7.8Z" fill="none" stroke="#801f00" stroke-width="6"/></g><g fill="none" stroke-linecap="round"><path stroke="#ff6600" stroke-width="2" d="M19 34.7L19.1 37.1M25.5 22.4L25.9 23.6M23.3 32.6L24.5 34M30.6 38.2L30.5 39.3M23.6 38.1L24.1 38.7M29.6 36L30.5 37.5M97.7 22.8L98.7 22.2M79.1 45.6L79.9 44.8"/><path stroke="#006600" stroke-width="1.8" d="M27.3 38.4L27.2 39.8M25.9 44.4L26.7 45.8M21.1 40.1L21.2 41M19.5 31.8L19.7 33.5M22.8 28.8L23.2 29.4M22.9 32.2L23.4 32.8M24.4 42.6L24.9 43.9M87 29.6L87.7 28.5M82.6 40.4L83 39.1M80.6 28.7L81.8 27.2M87.1 35.8L87.6 34.6"/><path stroke="#006600" stroke-width="2" d="M22.9 38.4L23.4 39.4M24.8 42.8L24.9 44.4M98.4 20.1L100 18.8M77.6 33.5L82.3 29.9"/><path stroke="#db6600" stroke-width="2" d="M26.7 29.9L26.7 31.1M98.2 15.4L99.2 14.2M85.1 33.7L86.3 31.7M97.6 12L98.2 11.6"/><path stroke="#db6600" stroke-width="1.3" d="M28.3 46.6L28.9 47.9M26.7 41.8L27.1 42.9"/><path stroke="#006600" stroke-width="2.4" d="M19.7 31.5L19.9 32.7M24 27.6L24.4 29M23.9 46.2L23.8 47.5M27.8 39.3L28.1 40.4"/><path stroke="#006600" stroke-width="3.1" d="M22.8 32.2L23.4 33.2"/><path stroke="#db6600" stroke-width="1.6" d="M21.9 39.3L22.3 40.1M31 55.1L31.4 55.8M98.4 25.3L98.6 24.6M66.3 31.5L66.8 30.6M95.1 33.7L95.7 32.8"/><path stroke="#006600" stroke-width="1.6" d="M24.4 28L25 28.8M17.5 30L18.1 31M75 39.6L75.7 39M77.4 38.9L77.9 38M83.3 26.6L84 25.6M21.3 35.5L24 43.5M26.8 43.5L29.5 52.6M30.4 49L33.1 57.2M23.1 46.4L24.8 50.8M20.4 29.1L22.2 33.5M27.7 32.6L29.5 38.2"/><path stroke="#ff6600" stroke-width="2.2" d="M26.8 37.1L26.9 38.9M32.9 42L33.2 43.9"/><path stroke="#006600" stroke-width="2.7" d="M25.2 42.6L25.3 43.9M28.8 37.3L29.5 38.1M89.4 32L90.1 30.7M95.9 19.3L96.3 18.3M83.2 39.6L84.1 38.7M85.1 40L85.7 38.8M69.7 57.2L73.6 50.6"/><path stroke="#ff6600" stroke-width="2.7" d="M25.4 35.2L25.4 36.7M87.3 40.7L88 40.1"/><path stroke="#db6600" stroke-width="2.4" d="M31.6 39.4L32.3 40.4M19.5 32.2L19.7 33M20.7 39L20.9 40.4M85.2 41.5L85.5 40.4"/><path stroke="#db6600" stroke-width="1.8" d="M28.9 41.3L29 41.9M30.9 50.1L31.2 50.6M84.1 33.5L84.7 33.1M95.5 25.2L96.3 24.7M85.5 22.2L86 21.5"/><path stroke="#ff6600" stroke-width="2.4" d="M24.1 36.2L24.2 37M26.3 41L26.4 42M80.9 36.1L81.8 35.3M95.3 25.1L95.6 23.9"/><path stroke="#006600" stroke-width="1.3" d="M31.9 53.3L32.5 54.1M73.1 51L73.9 50.5M85.1 36.2L85.9 35.2"/><path stroke="#ff6600" stroke-width="1.8" d="M26.3 37.4L27.4 39.2M27.8 39.7L28.2 40.6M84.7 41.6L85.4 41M91.5 21.9L92.3 20.6M84.4 34.6L85.1 33.4M86.2 28.1L86.5 26.8M89.1 30.2L90.4 29.4M90.9 39.6L91.8 38.8"/><path stroke="#db6600" stroke-width="2.2" d="M19.7 19.5L20.3 20.5M90.9 25L91.6 24.6"/><path stroke="#ff6600" stroke-width="1.6" d="M26.7 38.7L27.2 39.8M76.9 40.3L77.5 39.2M91.1 18.7L91.8 17.2"/><path stroke="#006600" stroke-width="2.9" d="M20.1 21.6L20.2 23M93.9 23L94.1 22M72.6 40.8L73.4 40.1"/><path stroke="#006600" stroke-width="2.2" d="M79.6 47.4L80.5 46.5M96.9 25.2L98.2 23.9M80.3 41.3L80.5 40.5M82.7 38.3L83.6 37.4"/><path stroke="#db6600" stroke-width="2.7" d="M88.4 39.3L89.5 38M89.2 23.8L89.8 22.5"/><path stroke="#006600" stroke-width="1.1" d="M78.5 27.5L79.6 26.7M87.8 18.6L88.6 17.5M82.8 34.6L83.1 33.5M93.8 34.3L94.8 33.6"/><path stroke="#ad6600" stroke-width="1.8" d="M95.1 12.1L96 11.5M71.2 54.4L71.8 53.7M82.9 39.4L83.5 38.5"/><path stroke="#ff6600" stroke-width="1.1" d="M79.2 39L80.1 38.1M73.7 34.3L74.7 33.6"/><path stroke="#ad6600" stroke-width="2" d="M90.6 27.3L91.2 26.2M100.7 17.6L102.6 16.2"/><path stroke="#ad6600" stroke-width="2.7" d="M88.8 22.9L89.1 22"/><path stroke="#ff6600" stroke-width="2.9" d="M94.9 16.3L95.4 15.1"/><path stroke="#ad6600" stroke-width="1.6" d="M97.6 26.9L98.8 25.5"/><path stroke="#ad6600" stroke-width="2.4" d="M90.5 23.9L91.8 22.8"/><path stroke="#db6600" stroke-width="3.1" d="M95.2 29.6L95.7 28.7"/><path stroke="#006600" stroke-width="2.1" d="M19.7 17.1L20.2 18.4M23 21.5L23.5 22.8M28.6 19.3L29.1 20.6M19.7 12.6L20.2 14M24.2 27.1L24.6 28.4M81.1 44.1L81.8 42.9M85 32.8L85.8 31.6M80.6 28.3L81.3 27.1"/><path stroke="#ff6600" stroke-width="2.1" d="M24.6 35.7L25.1 37M25.7 41.9L26.2 43.3M31 44.8L31.5 46.1M19.3 41L19.8 42.4M27.5 51.9L28 53.2M17.5 20.4L18 21.7M26.4 16L26.9 17.3M33 41.5L33.5 42.8M72 37L72.7 35.8M83.7 42.3L84.4 41.1M81.9 49.6L82.7 48.4M74 28.3L74.7 27.1M82.8 23.9L83.5 22.7M89.5 42.8L90.2 41.5"/><path stroke="#ff9900" stroke-width="1.6" d="M32.2 59L33.9 63.7"/><path stroke="#ffb200" stroke-width="5.8" d="M66.8 58.6L75 39.9"/><path stroke="#ffb200" stroke-width="2.7" d="M72.3 58.1L79.4 49"/><path stroke="#006600" stroke-width="3.8" d="M73.6 50.6L77.2 44.4M77.2 44.4L79.9 38.2"/><path stroke="#246600" stroke-width="1.6" d="M92.9 27.1L93.4 26.2M97.3 22.6L97.9 21.7M100.7 19.3L101.2 18.4M68.5 20.4L69 19.5M72.9 16L73.5 15.1"/></g></g></g></g></g>
<rect class="ax" x="207.5" y="383.1" width="119.5" height="68"/>
<text class="k" x="223.6" y="460.4" text-anchor="middle">−20</text><text class="k" x="258.7" y="460.4" text-anchor="middle">0</text><text class="k" x="292.9" y="460.4" text-anchor="middle">20</text><text class="k" x="327" y="460.4" text-anchor="middle">40</text><text class="k" x="204.9" y="385.3" text-anchor="end">40</text><text class="k" x="204.9" y="402.3" text-anchor="end">30</text><text class="k" x="204.9" y="419.3" text-anchor="end">20</text><text class="k" x="204.9" y="436.3" text-anchor="end">10</text><text class="k" x="204.9" y="453.3" text-anchor="end">0</text><path class="ax" d="M224.6 451.1v-1.2M224.6 383.1v1.2M258.7 451.1v-1.2M258.7 383.1v1.2M292.9 451.1v-1.2M292.9 383.1v1.2M207.5 400.1h1.2M327 400.1h-1.2M207.5 417.1h1.2M327 417.1h-1.2M207.5 434.1h1.2M327 434.1h-1.2"/>
<text x="267.6" y="470.3" text-anchor="middle" class="k xl" style="font-size:8.4px;letter-spacing:0.3px">x in mm</text><text transform="translate(193.7 416.9) rotate(-90)" text-anchor="middle" class="k yl" style="font-size:8.4px;letter-spacing:0.3px">y in mm</text>
<rect x="335" y="383.1" width="8.8" height="68" fill="url(#cb)"/><text class="k" x="346.8" y="385.4" style="font-size:7.4px">4</text><text class="k" x="346.8" y="402.4" style="font-size:7.4px">2</text><text class="k" x="346.8" y="419.4" style="font-size:7.4px">0</text><text class="k" x="345" y="436.4" style="font-size:7.4px">−2</text><text class="k" x="345" y="453.4" style="font-size:7.4px">−4</text><text class="k" x="345.2" y="378.7" style="font-size:8px;letter-spacing:0.2px">×10<tspan dy="-3" style="font-size:5.6px">6</tspan></text><text transform="translate(362.6 418.1) rotate(-90)" text-anchor="middle" class="k cl" style="font-size:9.1px;letter-spacing:0.2px"><tspan style="font-style:italic">D</tspan><tspan dy="1.6" style="font-size:6px;font-style:italic;letter-spacing:0.35px">HL,TT,yy</tspan><tspan dy="-1.6"> in m</tspan><tspan dy="-3" style="font-size:6px">2</tspan><tspan dy="3"> s</tspan><tspan dy="-3" style="font-size:6px">−3</tspan></text>
<g transform="translate(390.5 380.6)" clip-path="url(#c43)"><g transform="rotate(25 61 36)"><g filter="url(#f43)"><g transform="rotate(-25 61 36)"><rect x="-30" y="-40" width="182" height="152" fill="#835700"/><g filter="url(#bl)"><ellipse cx="25.5" cy="41" rx="9.3" ry="22.2" fill="#80d900" transform="rotate(-15 25.5 41)"/><ellipse cx="82.5" cy="41" rx="12.9" ry="21.1" fill="#80f200" transform="rotate(35 82.5 41)"/><ellipse cx="55.5" cy="33.3" rx="12.2" ry="21.1" fill="#7a2e00" transform="rotate(0 55.5 33.3)"/><path d="M20 4.9 L110.9 4.9 L114.2 7.1 L115.8 12.2 L117.6 15.1 L115.8 17.7 L116.2 24.4 L115.4 31.1 L112 38.8 L105.4 48.8 L96.5 58.1 L93.2 59.4 L36.6 59.4 L37.3 65.4 L35.5 67 L33.3 66.1 L27.7 61 L20 52.1 L13.8 42.1 L12.9 35.5 L11.5 28.8 L11.1 23.3 L9.3 21.1 L11.1 18.9 L12.2 12.2 L14.4 7.8Z" fill="none" stroke="#801f00" stroke-width="6"/></g><g fill="none" stroke-linecap="round"><path stroke="#006600" stroke-width="2.2" d="M30.2 49.1L30.3 50.6M27.2 43.8L27.2 44.8"/><path stroke="#ff6600" stroke-width="2.7" d="M22.6 34.1L23.2 34.8M79.9 49L80.8 48.3M82.9 41.4L83.6 40.5"/><path stroke="#db6600" stroke-width="1.3" d="M29 57.5L29.6 58.8M27.5 47.6L28.5 48.8M26.2 36.7L26.7 37.9"/><path stroke="#006600" stroke-width="1.6" d="M24.7 52.8L25 53.7M82 45.9L83 45.2M82.6 43.2L83 42.1M81.9 44.3L82.5 43.9M72.2 40.2L72.5 39.4M93.6 26.4L94.9 25.2M32.2 46.4L33.1 49.9M75 58.6L81.4 52.6"/><path stroke="#db6600" stroke-width="1.6" d="M29 45.9L29.1 47.1M31.1 48.6L31.9 49.5M29 42.2L29.5 43.5M24.4 49.7L24.4 50.4M74.4 46.5L74.8 45M78.2 43.9L78.5 42.7M79.3 48.7L80.2 48"/><path stroke="#ff6600" stroke-width="1.8" d="M28.1 40.7L28.9 42.3M19.5 37.2L20.7 38.9M25.1 26.5L26 28.1M26.4 32.3L27.1 33.1M31.6 46.4L31.6 47.1M84.3 29.1L84.8 28.2M81.9 51.4L82.2 50.8M82.4 44.6L82.6 43.6M74.7 43.8L75.4 43.4M92.6 38.4L93.4 37.1"/><path stroke="#ff6600" stroke-width="2.2" d="M27.1 36.1L27.8 36.9M27.1 32.6L27.9 33.6M29.5 53.6L29.5 55.2M76.5 40.6L77.1 39.8M83.8 37.3L84.2 35.6M84.5 41.5L85.7 40.6"/><path stroke="#ff6600" stroke-width="2" d="M31 54.6L31.7 56.1M28.1 32.4L28.1 33.8M25.5 47.3L25.6 48.2M84.3 38.4L85.3 36.8"/><path stroke="#ff6600" stroke-width="1.3" d="M24.2 33.1L24.1 34.1M81 38.2L81.4 37.3M85.9 37.7L86.9 36.9M93.2 28.2L93.8 26.8"/><path stroke="#006600" stroke-width="1.8" d="M28.7 42.3L29.2 43.1M24.2 42L24.1 44M23.6 38.7L23.8 39.5M87 43.7L87.6 43.2M88.7 41.5L90.3 40.2M82.6 41.1L83.8 40M78.3 39.1L78.6 37.5M70.1 44.7L71.2 43.4M71.4 58.6L77.6 51.7M79.4 45.5L84.1 39.9"/><path stroke="#db6600" stroke-width="2" d="M28.8 37.4L29 39.3M79.5 47.4L79.9 45.7"/><path stroke="#ff6600" stroke-width="1.6" d="M26.7 39.1L27.9 40.5M85.1 30.9L86.3 29.9M76.5 40.5L76.9 39.9"/><path stroke="#006600" stroke-width="1.3" d="M24.8 42.2L24.7 43.7M83.8 42L84.7 40.9M78.3 34.6L79 33.4M33.9 59.9L36.8 64.8"/><path stroke="#006600" stroke-width="2.4" d="M30.3 57.5L30.8 58.2M91 27.3L91.8 26.2M71.8 45L72.6 43.7"/><path stroke="#ff6600" stroke-width="2.4" d="M84.8 38L85.3 36.7M86.5 48.1L86.8 47.2"/><path stroke="#ad6600" stroke-width="1.6" d="M80.9 51.4L81.5 51.1M78.9 53.5L79.6 52.4"/><path stroke="#006600" stroke-width="2" d="M73.8 56.3L74.4 54.6M87 35.1L87.8 34.5M89.4 25L90 24.6M83.7 32.9L84.8 31.3M80.3 43.4L81 41.8"/><path stroke="#ad6600" stroke-width="2.7" d="M77.4 52.6L77.8 51.7"/><path stroke="#db6600" stroke-width="2.4" d="M86.5 33.6L87.1 32.4"/><path stroke="#ad6600" stroke-width="1.3" d="M90.4 36L91.1 35.4"/><path stroke="#ad6600" stroke-width="2" d="M80.8 46.4L81 45.5"/><path stroke="#ad6600" stroke-width="1.8" d="M72.2 42.9L73.8 41.4M76.7 57.1L77.3 56.4"/><path stroke="#db6600" stroke-width="1.8" d="M87.6 34.1L88 33.5"/><path stroke="#ffb200" stroke-width="2.2" d="M24 49L27.7 55.5"/><path stroke="#ff6600" stroke-width="2.1" d="M20.9 44.1L21.7 42.9M20.1 37L20.8 35.8M28.3 57.8L29 56.6M20.7 23.9L21.4 22.7"/><path stroke="#006600" stroke-width="1.9" d="M21.9 52.2L22.5 51.1M31.9 55.1L32.5 54M86.4 46.9L87 45.8M89.3 39.6L89.9 38.5M84.6 34.9L85.3 33.8M77.3 33.8L78 32.7"/><path stroke="#ffb200" stroke-width="2.7" d="M68.5 58.1L75.9 49M72.3 48.1L78.5 40.8"/><path stroke="#ffb200" stroke-width="1.8" d="M79.4 52.6L82.3 47.2"/><path stroke="#ff6600" stroke-width="1.9" d="M82 36.9L82.6 35.8M85.5 42.2L86.2 41.2M76.2 31.6L76.8 30.5M91.7 44.9L92.4 43.8"/></g></g></g></g></g>
<rect class="ax" x="391.5" y="383.1" width="119.5" height="68"/>
<text class="k" x="407.6" y="460.4" text-anchor="middle">−20</text><text class="k" x="442.7" y="460.4" text-anchor="middle">0</text><text class="k" x="476.9" y="460.4" text-anchor="middle">20</text><text class="k" x="511" y="460.4" text-anchor="middle">40</text><text class="k" x="388.9" y="385.3" text-anchor="end">40</text><text class="k" x="388.9" y="402.3" text-anchor="end">30</text><text class="k" x="388.9" y="419.3" text-anchor="end">20</text><text class="k" x="388.9" y="436.3" text-anchor="end">10</text><text class="k" x="388.9" y="453.3" text-anchor="end">0</text><path class="ax" d="M408.6 451.1v-1.2M408.6 383.1v1.2M442.7 451.1v-1.2M442.7 383.1v1.2M476.9 451.1v-1.2M476.9 383.1v1.2M391.5 400.1h1.2M511 400.1h-1.2M391.5 417.1h1.2M511 417.1h-1.2M391.5 434.1h1.2M511 434.1h-1.2"/>
<text x="451.6" y="470.3" text-anchor="middle" class="k xl" style="font-size:8.4px;letter-spacing:0.3px">x in mm</text><text transform="translate(377.7 416.9) rotate(-90)" text-anchor="middle" class="k yl" style="font-size:8.4px;letter-spacing:0.3px">y in mm</text>
<rect x="519" y="383.1" width="8.8" height="68" fill="url(#cb)"/><text class="k" x="530.8" y="385.4" style="font-size:7.4px">4</text><text class="k" x="530.8" y="402.4" style="font-size:7.4px">2</text><text class="k" x="530.8" y="419.4" style="font-size:7.4px">0</text><text class="k" x="529" y="436.4" style="font-size:7.4px">−2</text><text class="k" x="529" y="453.4" style="font-size:7.4px">−4</text><text class="k" x="529.2" y="378.7" style="font-size:8px;letter-spacing:0.2px">×10<tspan dy="-3" style="font-size:5.6px">6</tspan></text><text transform="translate(546.6 418.1) rotate(-90)" text-anchor="middle" class="k cl" style="font-size:9.1px;letter-spacing:0.2px"><tspan style="font-style:italic">D</tspan><tspan dy="1.6" style="font-size:6px;font-style:italic;letter-spacing:0.35px">HL,TT,xy</tspan><tspan dy="-1.6"> in m</tspan><tspan dy="-3" style="font-size:6px">2</tspan><tspan dy="3"> s</tspan><tspan dy="-3" style="font-size:6px">−3</tspan></text>
</svg>
</body></html>
